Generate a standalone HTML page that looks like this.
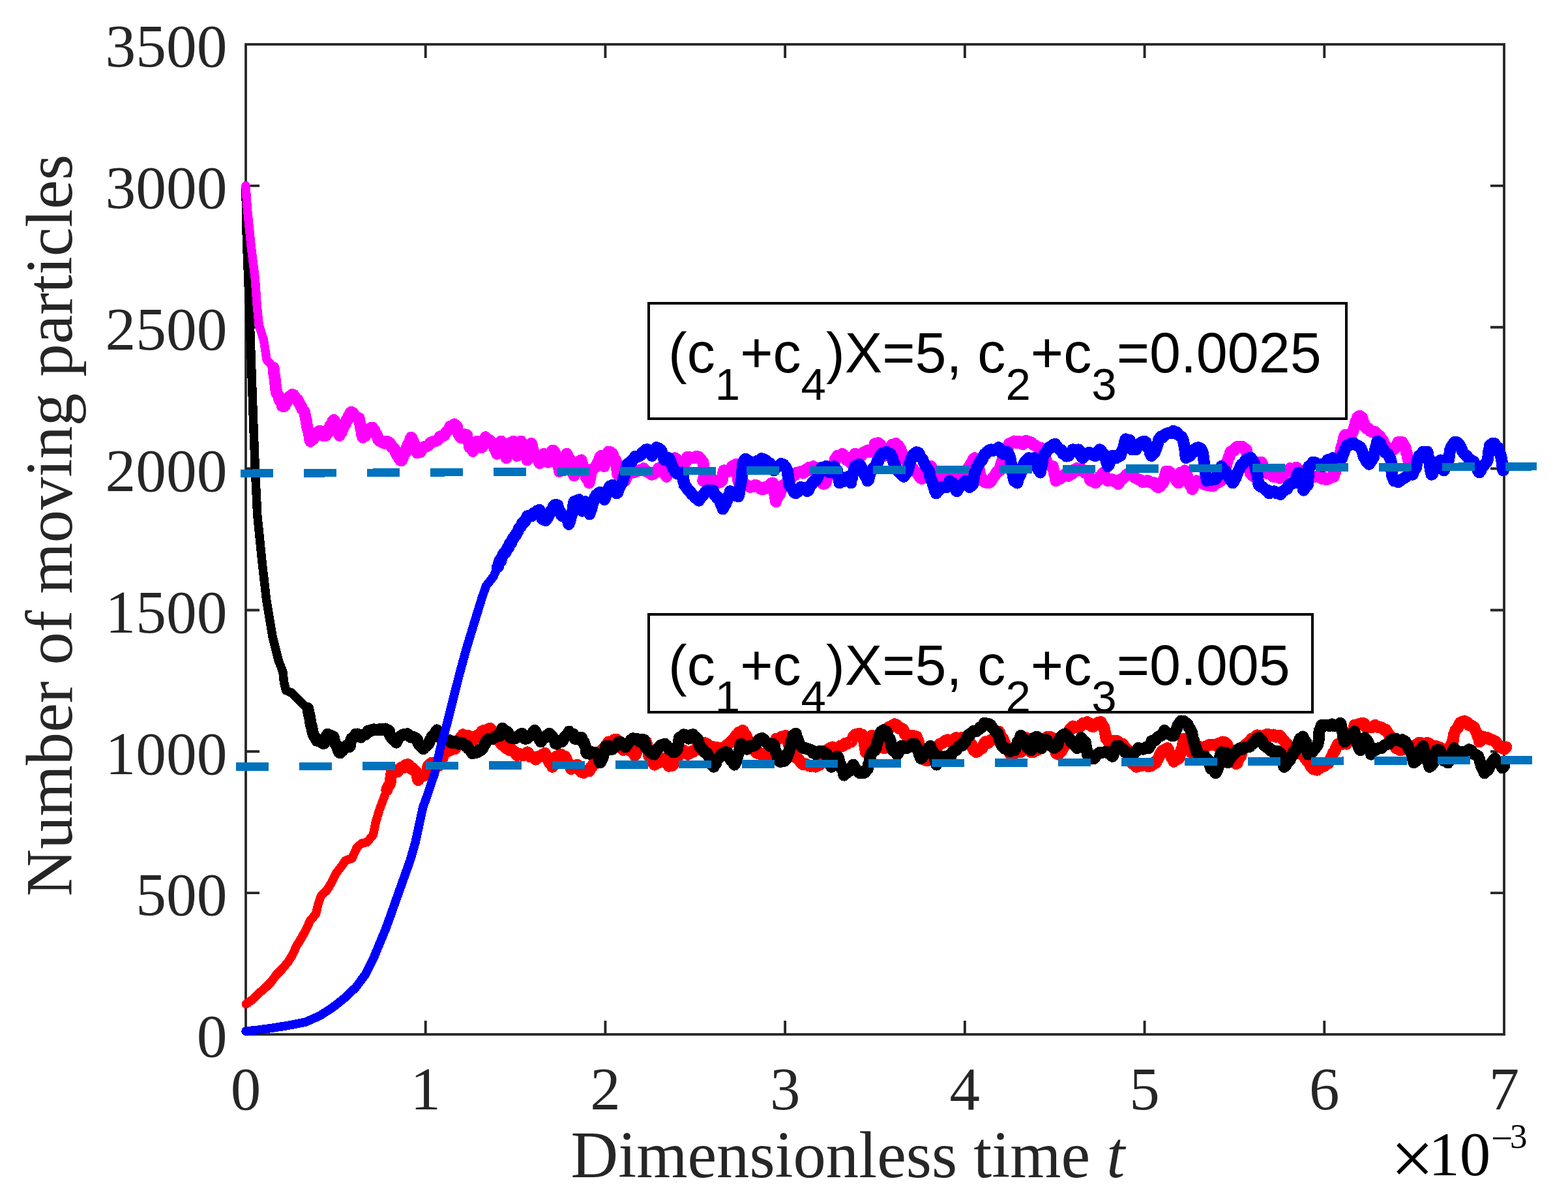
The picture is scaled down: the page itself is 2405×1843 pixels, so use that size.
<!DOCTYPE html>
<html><head><meta charset="utf-8"><title>Number of moving particles vs dimensionless time</title>
<style>html,body{margin:0;padding:0;background:#fff;overflow:hidden}svg{display:block}</style></head>
<body><svg width="2405" height="1843" viewBox="0 0 2405 1843"><rect x="377" y="68" width="1930" height="1518" fill="#fff" stroke="none"/>
<path d="M652.71,1586V1565M652.71,68V89M928.43,1586V1565M928.43,68V89M1204.14,1586V1565M1204.14,68V89M1479.86,1586V1565M1479.86,68V89M1755.57,1586V1565M1755.57,68V89M2031.29,1586V1565M2031.29,68V89M377,1369.14H398M2307,1369.14H2286M377,1152.29H398M2307,1152.29H2286M377,935.43H398M2307,935.43H2286M377,718.57H398M2307,718.57H2286M377,501.71H398M2307,501.71H2286M377,284.86H398M2307,284.86H2286" stroke="#262626" stroke-width="3.9" fill="none"/>
<rect x="377" y="68" width="1930" height="1518" fill="none" stroke="#262626" stroke-width="3.8"/>
<g shape-rendering="crispEdges"><path d="M377.4,1539.6 L387.9,1532.1 L396.8,1523.2 L407.2,1514.3 L416.1,1505.4 L423.6,1494.9 L432.5,1486.0 L441.4,1475.6 L448.9,1463.7 L454.8,1450.3 L462.3,1438.4 L469.7,1425.0 L475.7,1411.6 L484.6,1401.2 L487.6,1387.8 L492.0,1374.4 L501.0,1365.5 L508.4,1353.6 L515.8,1338.7 L524.8,1326.8 L530.0,1319.3 L540.0,1316.0 L547.6,1299.0 L555.0,1293.0 L562.9,1291.4 L572.4,1280.0 L576.2,1261.0 L581.9,1241.9 L587.6,1226.7 L593.3,1211.4" fill="none" stroke="#ff0000" stroke-width="13.5" stroke-linejoin="round" stroke-linecap="round"/><path d="M593.3,1211.4 L594.7,1207.6 L596.1,1204.9 L597.6,1203.2 L599.0,1198.0 L599.5,1192.2 L599.9,1189.7 L600.7,1185.1 L601.5,1183.3 L605.5,1180.9 L609.5,1183.3 L612.7,1179.2 L615.9,1176.6 L619.1,1176.9 L622.3,1172.8 L625.5,1172.1 L628.1,1174.3 L630.8,1178.8 L633.5,1178.5 L635.9,1181.9 L638.2,1183.3 L639.0,1185.9 L639.8,1189.2 L640.6,1193.8 L641.4,1196.1 L643.6,1193.1 L645.7,1189.7 L647.8,1189.7 L651.0,1189.0 L654.2,1184.9 L655.3,1181.7 L656.3,1175.5 L657.4,1173.7 L661.4,1170.0 L665.4,1170.5 L669.4,1170.1 L673.4,1173.7 L674.7,1172.8 L675.9,1165.4 L677.2,1164.8 L678.5,1163.3 L679.8,1157.7 L682.4,1153.3 L685.1,1152.9 L687.7,1151.4 L691.7,1149.6 L695.7,1148.2 L697.9,1148.1 L700.0,1142.3 L702.1,1141.8 L703.7,1137.5 L705.3,1134.3 L706.8,1130.2 L708.4,1130.3 L710.0,1126.3 L714.0,1128.7 L718.0,1127.9 L720.6,1129.7 L723.3,1129.8 L726.0,1134.3 L728.6,1132.7 L731.3,1130.2 L734.0,1126.3 L736.6,1124.9 L739.3,1121.2 L741.9,1119.9 L745.1,1120.5 L748.3,1118.4 L751.5,1116.7 L753.6,1119.3 L755.8,1121.2 L757.9,1123.1 L760.0,1125.0 L762.2,1129.3 L764.3,1132.7 L766.4,1137.4 L768.5,1140.0 L770.7,1142.3 L773.3,1143.1 L776.0,1147.1 L778.7,1147.1 L781.3,1150.4 L784.0,1148.0 L786.6,1151.9 L788.8,1152.3 L790.9,1154.7 L793.0,1158.2 L797.0,1155.8 L801.0,1158.2 L803.7,1157.9 L806.3,1155.8 L809.0,1153.4 L811.1,1155.8 L813.3,1160.2 L815.4,1159.8 L818.6,1161.5 L821.8,1164.6 L824.4,1161.5 L827.1,1159.5 L829.8,1159.8 L832.9,1156.6 L836.1,1155.0 L837.4,1159.6 L838.7,1161.3 L840.0,1161.5 L841.2,1166.2 L842.5,1169.4 L844.9,1170.3 L847.3,1175.8 L848.6,1173.2 L849.9,1167.5 L851.1,1164.6 L852.4,1163.7 L853.7,1159.8 L856.9,1159.9 L860.1,1156.6 L863.3,1158.8 L866.5,1159.8 L868.1,1162.0 L869.7,1166.9 L871.3,1169.4 L872.9,1171.5 L874.5,1173.3 L876.1,1179.0 L879.3,1175.7 L882.4,1175.7 L885.6,1172.6 L887.2,1176.0 L888.8,1176.7 L890.4,1182.7 L892.0,1183.8 L895.2,1184.9 L898.4,1181.6 L901.6,1182.2 L903.7,1182.4 L905.9,1176.7 L908.0,1175.8 L910.1,1171.5 L912.3,1171.6 L914.4,1169.4 L915.7,1168.0 L916.9,1163.5 L918.2,1160.1 L919.5,1156.6 L920.8,1153.4 L922.9,1150.2 L925.0,1148.2 L927.2,1147.1 L929.3,1143.4 L931.4,1140.9 L933.5,1137.5 L937.5,1138.1 L941.5,1134.3 L945.5,1133.7 L949.5,1137.5 L951.1,1139.4 L952.7,1146.1 L954.3,1147.8 L955.9,1150.3 L958.0,1146.0 L960.2,1145.7 L962.3,1143.9 L964.4,1147.3 L966.5,1151.3 L968.7,1151.9 L971.1,1153.0 L973.5,1158.2 L974.7,1157.4 L976.0,1153.8 L977.3,1148.5 L978.6,1146.9 L979.8,1143.9 L981.4,1142.3 L983.0,1136.2 L984.6,1134.3 L987.8,1136.9 L991.0,1137.5 L991.7,1141.0 L992.4,1141.7 L993.1,1145.9 L993.8,1149.8 L994.4,1151.6 L995.1,1158.9 L995.8,1159.8 L997.4,1161.1 L999.0,1163.6 L1000.6,1168.0 L1002.2,1170.2 L1003.8,1172.6 L1007.0,1170.1 L1010.2,1169.4 L1012.3,1166.4 L1014.4,1165.1 L1016.6,1163.0 L1018.7,1167.7 L1020.8,1166.2 L1023.0,1171.0 L1026.1,1174.7 L1029.3,1174.2 L1031.5,1173.7 L1033.6,1169.8 L1035.7,1166.2 L1037.3,1164.5 L1038.9,1159.2 L1040.5,1159.0 L1042.1,1153.4 L1045.3,1153.1 L1048.5,1150.3 L1050.6,1153.3 L1052.8,1154.3 L1054.9,1156.6 L1058.0,1155.0 L1060.6,1152.1 L1063.3,1152.8 L1066.0,1150.3 L1068.1,1149.3 L1070.2,1143.5 L1072.4,1143.9 L1075.0,1141.3 L1077.7,1140.9 L1080.3,1139.1 L1083.0,1139.8 L1085.7,1141.5 L1088.3,1145.5 L1092.3,1144.7 L1096.3,1147.1 L1100.3,1146.2 L1104.3,1150.3 L1107.5,1146.8 L1110.7,1147.1 L1113.3,1143.9 L1116.0,1141.7 L1118.7,1139.1 L1121.3,1137.6 L1124.0,1133.9 L1126.6,1132.7 L1128.8,1127.6 L1130.9,1128.4 L1133.0,1123.1 L1136.2,1122.2 L1139.4,1119.9 L1141.0,1123.6 L1142.6,1126.5 L1144.2,1127.4 L1145.8,1131.1 L1146.9,1134.8 L1147.9,1136.6 L1149.0,1140.7 L1151.1,1143.6 L1153.3,1146.5 L1155.4,1147.1 L1157.5,1147.3 L1159.6,1153.9 L1161.8,1155.0 L1165.8,1154.7 L1169.8,1158.2 L1173.7,1155.8 L1177.7,1158.2 L1179.0,1153.2 L1180.3,1152.8 L1181.6,1151.4 L1182.8,1148.9 L1184.1,1143.9 L1185.7,1139.4 L1187.3,1137.9 L1188.9,1137.7 L1190.5,1132.7 L1194.5,1133.0 L1198.5,1129.5 L1201.7,1130.3 L1204.9,1127.9 L1205.9,1129.8 L1207.0,1133.2 L1208.1,1137.5 L1209.1,1138.9 L1210.2,1142.7 L1211.3,1147.1 L1212.9,1149.8 L1214.5,1154.9 L1216.1,1156.6 L1218.2,1159.6 L1220.3,1159.3 L1222.4,1163.0 L1224.6,1163.6 L1226.7,1167.0 L1228.8,1169.4 L1232.0,1172.4 L1235.2,1171.4 L1238.4,1172.6 L1241.6,1174.6 L1244.8,1174.6 L1248.0,1174.2 L1251.2,1175.6 L1254.4,1173.1 L1257.6,1172.6 L1259.7,1168.8 L1261.8,1166.0 L1264.0,1163.0 L1265.2,1161.7 L1266.5,1156.2 L1267.8,1152.9 L1269.1,1153.2 L1270.3,1148.7 L1273.5,1147.0 L1276.7,1145.5 L1280.7,1147.0 L1284.7,1147.1 L1288.7,1143.8 L1292.7,1143.9 L1295.9,1140.0 L1299.1,1140.7 L1302.3,1137.7 L1305.5,1137.5 L1307.1,1134.3 L1308.7,1129.6 L1310.3,1128.0 L1311.9,1126.3 L1315.1,1127.7 L1318.2,1124.7 L1320.4,1126.5 L1322.5,1126.5 L1324.6,1131.1 L1325.1,1135.8 L1325.5,1136.5 L1326.0,1139.0 L1326.5,1144.6 L1326.9,1147.9 L1327.4,1149.4 L1327.8,1153.4 L1330.2,1151.3 L1332.6,1147.1 L1333.4,1145.7 L1334.2,1139.9 L1335.0,1137.5 L1335.8,1131.8 L1336.6,1131.6 L1337.4,1127.9 L1339.5,1129.0 L1341.7,1132.9 L1343.8,1134.3 L1345.9,1138.8 L1348.1,1139.9 L1350.2,1143.9 L1353.4,1146.3 L1356.6,1147.1 L1357.2,1146.1 L1357.8,1139.0 L1358.5,1139.0 L1359.1,1134.2 L1359.8,1133.3 L1360.4,1125.8 L1361.0,1124.1 L1361.7,1119.8 L1362.3,1117.1 L1363.0,1115.1 L1366.1,1115.5 L1369.3,1112.1 L1372.5,1110.3 L1375.7,1111.8 L1378.9,1116.9 L1382.1,1116.7 L1384.1,1117.3 L1386.1,1119.9 L1388.1,1126.4 L1390.1,1127.9 L1393.3,1128.2 L1396.4,1129.6 L1399.6,1127.9 L1402.8,1128.7 L1406.0,1129.5 L1406.9,1134.6 L1407.9,1134.4 L1408.8,1136.8 L1409.8,1142.9 L1410.8,1143.9 L1411.6,1147.2 L1412.4,1147.9 L1413.2,1151.0 L1414.0,1154.2 L1414.7,1161.0 L1415.5,1163.0 L1418.7,1165.3 L1421.9,1166.2 L1424.6,1161.6 L1427.3,1162.4 L1429.9,1158.2 L1431.5,1156.8 L1433.1,1153.3 L1434.7,1150.2 L1436.3,1147.1 L1438.7,1143.5 L1441.1,1140.7 L1444.3,1140.0 L1447.5,1137.5 L1450.7,1135.3 L1453.9,1134.3 L1457.1,1137.2 L1460.3,1135.9 L1463.4,1133.9 L1466.6,1131.1 L1470.6,1132.0 L1474.6,1131.1 L1477.8,1134.0 L1481.0,1132.7 L1484.2,1137.5 L1487.4,1137.5 L1489.0,1140.8 L1490.6,1141.9 L1492.2,1147.2 L1493.8,1150.3 L1497.0,1153.1 L1500.2,1151.9 L1503.4,1148.0 L1506.6,1147.1 L1508.2,1142.6 L1509.8,1139.6 L1511.4,1137.5 L1516.1,1139.1 L1518.5,1135.3 L1520.9,1134.3 L1523.1,1133.7 L1525.2,1130.2 L1527.3,1127.9 L1529.7,1122.6 L1532.1,1121.5 L1533.7,1124.8 L1535.3,1128.9 L1536.9,1131.1 L1538.2,1131.9 L1539.5,1136.0 L1540.7,1138.2 L1542.0,1144.8 L1543.3,1147.1 L1545.4,1149.8 L1547.5,1151.0 L1549.7,1156.6 L1552.9,1154.6 L1556.1,1155.0 L1559.3,1151.1 L1562.4,1150.3 L1565.6,1153.4 L1566.8,1150.6 L1567.9,1146.7 L1569.1,1143.5 L1570.2,1139.8 L1571.3,1135.2 L1572.5,1133.4 L1573.6,1131.1 L1575.2,1134.4 L1576.8,1136.6 L1578.4,1139.1 L1579.2,1143.1 L1580.0,1144.6 L1580.8,1147.6 L1581.6,1153.4 L1584.8,1153.2 L1588.0,1150.3 L1592.0,1149.7 L1596.0,1147.1 L1597.3,1145.0 L1598.5,1143.6 L1599.8,1137.5 L1601.1,1136.7 L1602.4,1132.7 L1606.4,1130.0 L1610.3,1129.5 L1613.5,1131.6 L1616.7,1132.7 L1617.2,1137.9 L1617.6,1138.9 L1618.1,1142.8 L1618.6,1147.9 L1619.0,1148.6 L1619.5,1150.5 L1619.9,1155.0 L1623.1,1156.5 L1626.3,1153.4 L1628.4,1151.1 L1630.6,1146.2 L1632.7,1143.9 L1633.6,1139.5 L1634.5,1135.1 L1635.4,1132.2 L1636.4,1133.5 L1637.3,1128.2 L1638.2,1126.1 L1639.1,1121.5 L1641.2,1117.6 L1643.3,1117.9 L1645.5,1113.5 L1649.5,1115.4 L1653.5,1115.1 L1656.1,1114.9 L1658.8,1110.8 L1661.4,1108.7 L1664.6,1110.0 L1667.8,1107.1 L1670.0,1109.6 L1672.1,1109.6 L1674.2,1113.5 L1677.4,1114.0 L1680.6,1110.3 L1684.6,1107.7 L1688.6,1107.1 L1690.2,1111.9 L1691.8,1112.7 L1693.4,1115.1 L1694.0,1118.1 L1694.7,1122.3 L1695.3,1125.0 L1695.9,1127.1 L1696.6,1132.7 L1698.2,1133.1 L1699.8,1135.9 L1701.4,1140.7 L1704.6,1140.3 L1707.7,1135.9 L1712.5,1135.9 L1715.7,1137.5 L1718.9,1140.7 L1722.1,1140.7 L1725.3,1145.5 L1727.4,1147.1 L1729.6,1150.4 L1731.7,1151.9 L1732.5,1156.1 L1733.2,1161.1 L1734.0,1161.9 L1734.8,1166.2 L1736.8,1170.9 L1738.8,1168.6 L1740.8,1171.7 L1742.8,1175.8 L1746.5,1174.7 L1750.2,1174.4 L1754.0,1172.6 L1757.7,1172.7 L1761.4,1175.1 L1765.1,1174.2 L1767.8,1172.8 L1770.5,1168.5 L1773.1,1169.4 L1774.7,1165.7 L1776.3,1163.7 L1777.9,1159.8 L1780.0,1155.4 L1782.2,1151.9 L1784.3,1150.3 L1787.5,1149.4 L1790.7,1147.1 L1792.3,1150.1 L1793.9,1155.9 L1795.5,1156.6 L1796.7,1161.7 L1797.9,1161.3 L1799.1,1162.7 L1800.3,1167.8 L1802.9,1164.6 L1805.6,1164.3 L1808.2,1163.0 L1809.2,1159.5 L1810.2,1156.3 L1811.1,1151.4 L1812.1,1149.3 L1813.0,1147.1 L1813.8,1143.0 L1814.6,1141.1 L1815.4,1134.4 L1816.2,1132.7 L1817.5,1136.2 L1818.8,1137.8 L1820.1,1142.7 L1821.3,1145.1 L1822.6,1147.1 L1824.7,1148.2 L1826.9,1153.4 L1829.0,1155.0 L1831.7,1152.3 L1834.3,1152.5 L1837.0,1148.7 L1840.2,1145.2 L1843.4,1145.6 L1846.6,1145.5 L1850.3,1144.5 L1854.0,1142.3 L1857.7,1142.3 L1860.9,1141.7 L1864.1,1142.7 L1867.3,1142.3 L1870.0,1139.4 L1872.6,1140.9 L1875.3,1137.5 L1878.5,1138.0 L1881.7,1140.7 L1883.3,1144.3 L1884.9,1148.3 L1886.5,1148.7 L1887.1,1150.2 L1887.8,1157.6 L1888.4,1157.6 L1889.0,1162.5 L1889.7,1166.2 L1892.9,1166.7 L1896.1,1171.0 L1897.7,1170.4 L1899.3,1164.5 L1900.8,1162.7 L1902.4,1159.8 L1903.4,1159.3 L1904.4,1152.3 L1905.3,1149.1 L1906.3,1149.3 L1907.2,1145.5 L1910.4,1141.6 L1913.6,1142.3 L1915.6,1138.0 L1917.6,1136.3 L1919.6,1132.6 L1921.6,1132.7 L1924.8,1130.3 L1928.0,1127.3 L1931.2,1127.9 L1934.4,1130.1 L1937.6,1128.0 L1940.8,1127.9 L1944.0,1125.6 L1947.2,1129.1 L1950.3,1127.9 L1953.5,1126.6 L1956.7,1129.8 L1959.9,1127.9 L1962.6,1127.7 L1965.2,1130.3 L1967.9,1134.3 L1970.0,1135.8 L1972.2,1140.2 L1974.3,1140.7 L1975.9,1146.0 L1977.5,1149.4 L1979.1,1150.3 L1982.3,1148.8 L1985.5,1150.3 L1988.7,1152.0 L1991.9,1155.0 L1995.1,1156.0 L1998.2,1153.4 L1999.8,1158.2 L2001.4,1162.0 L2003.0,1160.9 L2004.6,1166.2 L2006.8,1167.1 L2008.9,1172.1 L2011.0,1175.8 L2014.2,1179.1 L2017.4,1179.9 L2020.6,1180.6 L2023.8,1177.8 L2027.0,1175.8 L2030.2,1175.1 L2033.4,1172.6 L2035.5,1170.2 L2037.6,1170.0 L2039.8,1166.2 L2041.4,1162.0 L2043.0,1161.1 L2044.6,1154.9 L2046.1,1153.4 L2047.7,1150.7 L2049.3,1146.1 L2050.9,1143.1 L2052.5,1140.7 L2055.7,1139.5 L2058.9,1140.7 L2062.1,1138.3 L2065.3,1140.7 L2066.6,1135.5 L2067.9,1135.1 L2069.1,1131.9 L2070.4,1128.7 L2071.7,1124.7 L2072.1,1128.4 L2072.6,1132.7 L2073.2,1130.2 L2073.9,1128.2 L2074.6,1126.2 L2075.3,1120.3 L2076.0,1119.1 L2076.7,1116.5 L2077.4,1111.9 L2080.5,1112.9 L2083.7,1110.3 L2086.9,1110.4 L2090.1,1108.7 L2092.3,1109.5 L2094.4,1114.6 L2096.5,1115.1 L2099.7,1115.4 L2102.9,1115.1 L2106.1,1114.7 L2109.3,1111.9 L2112.5,1114.8 L2115.7,1115.1 L2118.9,1115.3 L2122.1,1118.3 L2125.3,1118.6 L2128.4,1123.1 L2130.6,1127.2 L2132.7,1129.3 L2134.8,1131.1 L2136.1,1131.9 L2137.4,1135.2 L2138.7,1140.3 L2139.9,1144.6 L2141.2,1147.1 L2144.4,1146.8 L2147.6,1150.3 L2150.8,1149.6 L2154.0,1147.1 L2157.2,1146.3 L2160.4,1147.8 L2163.6,1147.1 L2166.8,1144.3 L2170.0,1143.9 L2173.2,1140.9 L2176.4,1138.9 L2179.5,1139.1 L2182.7,1140.0 L2185.9,1139.7 L2189.1,1139.1 L2191.3,1139.6 L2193.4,1142.5 L2195.5,1147.1 L2198.7,1147.1 L2201.9,1143.9 L2206.7,1145.5 L2209.3,1146.4 L2212.0,1151.9 L2214.7,1151.9 L2217.9,1153.4 L2221.1,1150.3 L2223.2,1148.6 L2225.3,1142.1 L2227.4,1140.7 L2228.1,1135.5 L2228.7,1135.9 L2229.4,1130.7 L2230.0,1125.6 L2230.6,1124.7 L2232.2,1120.1 L2233.8,1118.3 L2235.4,1116.7 L2237.6,1112.3 L2239.7,1108.0 L2241.8,1107.1 L2246.6,1105.5 L2248.7,1108.8 L2250.9,1107.6 L2253.0,1111.9 L2257.0,1112.5 L2261.0,1115.1 L2262.6,1119.3 L2264.2,1122.8 L2265.8,1124.7 L2266.6,1129.4 L2267.4,1129.8 L2268.2,1132.6 L2269.0,1137.5 L2271.1,1135.4 L2273.2,1133.7 L2275.3,1129.5 L2278.5,1131.5 L2281.7,1131.1 L2284.9,1133.9 L2288.1,1134.3 L2291.3,1135.5 L2294.5,1137.5 L2296.6,1140.7 L2298.8,1143.8 L2300.9,1143.9 L2304.1,1146.8 L2307.3,1148.7 L2310.5,1145.5" fill="none" stroke="#ff0000" stroke-width="18" stroke-linejoin="round" stroke-linecap="round"/></g>
<g shape-rendering="crispEdges"><path d="M377.0,284.5 L377.5,330.0 L378.6,372.8 L380.5,420.0 L382.3,465.6 L385.5,558.4 L388.8,651.2 L391.6,725.5 L394.8,790.4 L401.8,860.0 L408.7,920.4 L418.0,976.0 L427.3,1013.0 L433.9,1030.0 L435.5,1046.0 L438.7,1058.7 L446.6,1061.9 L456.2,1071.5 L465.8,1081.1 L472.2,1085.9" fill="none" stroke="#000000" stroke-width="13.5" stroke-linejoin="round" stroke-linecap="round"/><path d="M472.2,1085.9 L472.8,1089.4 L473.5,1092.9 L474.1,1097.1 L474.7,1097.5 L475.4,1101.9 L476.0,1105.8 L476.7,1110.2 L477.3,1113.5 L477.9,1113.1 L478.6,1117.8 L479.6,1122.3 L480.7,1125.9 L481.8,1129.0 L483.9,1131.1 L486.0,1135.6 L488.2,1135.4 L490.8,1137.1 L493.5,1138.3 L496.1,1140.2 L497.4,1139.5 L498.7,1135.1 L500.0,1130.6 L501.2,1127.7 L502.5,1125.8 L506.5,1127.4 L510.5,1129.0 L511.7,1130.0 L512.9,1135.9 L514.1,1139.8 L515.3,1141.8 L516.9,1144.6 L518.5,1149.9 L520.1,1153.5 L521.7,1154.5 L523.7,1152.4 L525.7,1150.7 L527.7,1145.4 L529.7,1145.0 L532.9,1142.7 L536.1,1145.0 L536.9,1144.2 L537.7,1137.5 L538.5,1134.0 L539.3,1132.2 L541.4,1132.0 L543.5,1129.2 L545.6,1125.8 L548.3,1125.5 L551.0,1128.1 L553.6,1130.6 L556.3,1127.7 L558.9,1126.3 L561.6,1125.8 L564.3,1121.2 L566.9,1121.7 L569.6,1119.4 L573.6,1118.4 L577.6,1119.4 L580.8,1118.9 L584.0,1117.8 L587.2,1119.4 L591.1,1117.5 L595.1,1119.4 L596.7,1120.3 L598.3,1127.7 L599.9,1130.2 L601.5,1132.2 L603.7,1134.6 L605.8,1134.6 L607.9,1138.6 L610.0,1133.6 L612.2,1130.3 L614.3,1129.0 L618.3,1126.5 L622.3,1125.8 L624.9,1125.2 L627.6,1127.9 L630.3,1130.6 L634.3,1129.9 L638.2,1132.2 L639.8,1133.8 L641.4,1139.3 L643.0,1141.8 L645.2,1143.7 L647.3,1145.9 L649.4,1148.2 L651.6,1145.3 L653.7,1144.1 L655.8,1141.8 L657.4,1140.5 L659.0,1135.5 L660.6,1133.8 L662.7,1129.0 L664.9,1128.4 L667.0,1125.8 L668.6,1122.0 L670.2,1119.4 L671.8,1124.0 L673.4,1123.9 L675.0,1130.9 L676.6,1132.2 L679.6,1130.7 L682.7,1134.2 L685.8,1134.6 L688.8,1134.9 L691.9,1138.6 L694.9,1138.6 L698.0,1136.8 L701.1,1139.4 L704.1,1140.8 L707.2,1138.8 L710.3,1140.0 L713.3,1143.5 L716.4,1143.9 L718.4,1147.8 L720.4,1149.3 L722.4,1151.9 L724.4,1155.0 L728.4,1154.3 L732.4,1153.4 L734.7,1149.9 L737.1,1150.5 L739.5,1148.6 L741.9,1143.9 L743.9,1141.0 L745.9,1135.9 L747.9,1135.0 L749.9,1132.7 L753.9,1133.4 L757.9,1131.1 L761.1,1129.2 L764.3,1127.0 L767.5,1127.9 L768.5,1122.6 L769.6,1121.5 L770.7,1116.7 L773.9,1119.7 L777.1,1121.5 L779.2,1123.6 L781.3,1128.5 L783.4,1131.1 L786.6,1131.9 L789.8,1132.4 L793.0,1129.5 L795.7,1129.6 L798.4,1126.0 L801.0,1124.7 L802.6,1128.9 L804.2,1132.2 L805.8,1132.7 L809.0,1132.1 L812.2,1127.9 L814.9,1126.5 L817.5,1123.0 L820.2,1119.9 L821.8,1122.6 L823.4,1127.0 L825.0,1127.9 L826.6,1131.7 L828.2,1135.4 L829.8,1137.5 L831.9,1134.0 L834.0,1131.2 L836.1,1131.1 L838.3,1127.8 L840.4,1127.3 L842.5,1124.7 L844.7,1127.7 L846.8,1128.5 L848.9,1132.7 L850.5,1133.8 L852.1,1140.3 L853.7,1140.7 L856.9,1136.9 L860.1,1137.5 L862.2,1137.0 L864.3,1133.5 L866.5,1129.5 L868.6,1127.2 L870.7,1126.7 L872.9,1121.5 L875.3,1124.8 L877.7,1126.3 L879.8,1126.0 L881.9,1132.8 L884.0,1132.7 L888.0,1131.5 L892.0,1131.1 L893.2,1136.0 L894.4,1138.3 L895.6,1137.7 L896.8,1142.3 L897.6,1143.2 L898.4,1146.3 L899.2,1153.3 L900.0,1155.0 L904.0,1155.7 L908.0,1153.4 L912.0,1153.7 L916.0,1156.6 L917.2,1157.9 L918.4,1162.4 L919.6,1167.7 L920.8,1169.4 L922.0,1167.4 L923.2,1164.9 L924.4,1162.2 L925.6,1156.6 L926.8,1154.7 L928.0,1151.9 L929.1,1144.6 L930.3,1143.9 L933.5,1143.8 L936.7,1148.7 L939.4,1148.9 L942.1,1146.1 L944.7,1143.9 L946.8,1140.9 L949.0,1137.8 L951.1,1137.5 L953.8,1139.3 L956.4,1142.0 L959.1,1145.5 L961.2,1142.8 L963.3,1139.9 L965.5,1137.5 L968.1,1134.4 L970.8,1132.2 L973.5,1132.7 L976.1,1132.8 L978.8,1134.0 L981.4,1137.5 L984.6,1133.9 L987.8,1134.3 L988.6,1137.1 L989.4,1138.8 L990.2,1145.4 L991.0,1147.1 L993.2,1149.4 L995.3,1151.1 L997.4,1153.4 L1000.6,1155.7 L1003.8,1156.6 L1005.9,1152.1 L1008.1,1147.9 L1010.2,1147.1 L1013.4,1142.8 L1016.6,1142.0 L1019.8,1140.7 L1021.9,1142.6 L1024.0,1144.8 L1026.1,1148.7 L1029.3,1150.1 L1032.5,1153.4 L1035.7,1152.7 L1038.9,1148.7 L1039.6,1142.7 L1040.2,1141.4 L1040.8,1137.5 L1041.5,1133.5 L1042.1,1131.1 L1045.3,1129.8 L1048.5,1126.3 L1051.7,1127.3 L1054.9,1131.1 L1056.4,1132.7 L1058.5,1128.3 L1060.6,1126.7 L1062.8,1126.3 L1064.9,1130.8 L1067.0,1129.8 L1069.2,1132.7 L1070.4,1133.7 L1071.7,1140.8 L1073.0,1142.0 L1074.3,1146.5 L1075.5,1147.1 L1077.7,1148.3 L1079.8,1152.9 L1081.9,1153.4 L1084.1,1154.3 L1086.2,1158.5 L1088.3,1163.0 L1089.9,1167.7 L1091.5,1169.5 L1093.1,1174.1 L1094.7,1175.8 L1096.3,1172.0 L1097.9,1171.3 L1099.5,1164.1 L1101.1,1163.0 L1103.2,1161.5 L1105.4,1157.2 L1107.5,1156.6 L1111.5,1153.5 L1115.5,1153.4 L1117.1,1158.6 L1118.7,1159.5 L1120.3,1164.6 L1121.9,1166.2 L1124.2,1168.3 L1126.6,1172.6 L1127.8,1170.6 L1129.0,1168.3 L1130.2,1163.7 L1131.4,1159.8 L1132.2,1155.3 L1133.0,1154.3 L1133.8,1152.5 L1134.6,1148.6 L1135.4,1143.6 L1136.2,1140.7 L1141.0,1143.9 L1143.4,1145.8 L1145.8,1148.7 L1149.0,1144.3 L1152.2,1143.9 L1156.2,1143.6 L1160.2,1140.7 L1162.3,1136.3 L1164.4,1133.9 L1166.6,1132.7 L1169.2,1132.0 L1171.9,1134.2 L1174.5,1137.5 L1176.7,1139.0 L1178.8,1141.6 L1180.9,1143.9 L1185.7,1140.7 L1186.9,1142.2 L1188.1,1146.7 L1189.3,1151.5 L1190.5,1153.4 L1191.3,1154.6 L1192.1,1158.0 L1192.9,1163.1 L1193.7,1166.2 L1196.9,1168.2 L1200.1,1166.2 L1203.3,1166.7 L1206.5,1163.0 L1207.4,1160.2 L1208.4,1154.6 L1209.4,1155.3 L1210.3,1152.7 L1211.3,1147.1 L1212.1,1145.9 L1212.9,1140.8 L1213.7,1136.9 L1214.5,1134.7 L1215.3,1132.5 L1216.1,1127.9 L1220.8,1124.7 L1221.8,1130.4 L1222.8,1131.1 L1223.7,1134.3 L1224.7,1136.5 L1225.6,1140.7 L1227.8,1143.0 L1229.9,1145.2 L1232.0,1147.1 L1235.2,1146.8 L1238.4,1148.7 L1241.6,1149.2 L1244.8,1150.3 L1246.9,1154.5 L1249.1,1153.2 L1251.2,1156.6 L1254.4,1153.0 L1257.6,1151.9 L1260.8,1151.7 L1264.0,1153.4 L1266.1,1157.4 L1268.2,1156.7 L1270.3,1159.8 L1271.3,1164.7 L1272.3,1168.4 L1273.2,1171.3 L1274.2,1174.1 L1275.1,1175.8 L1276.3,1171.1 L1277.5,1169.2 L1278.7,1167.8 L1279.9,1163.0 L1284.7,1159.8 L1285.9,1161.8 L1287.1,1166.7 L1288.3,1171.3 L1289.5,1172.6 L1290.5,1178.0 L1291.4,1178.2 L1292.4,1180.3 L1293.3,1183.0 L1294.3,1188.6 L1297.0,1185.5 L1299.6,1184.6 L1302.3,1182.2 L1304.4,1177.9 L1306.5,1177.4 L1308.7,1172.6 L1310.8,1176.6 L1312.9,1179.6 L1315.1,1182.2 L1318.2,1184.9 L1321.4,1183.5 L1324.6,1185.4 L1326.8,1184.0 L1328.9,1180.4 L1331.0,1179.0 L1331.7,1174.7 L1332.4,1170.7 L1333.1,1170.9 L1333.8,1168.2 L1334.4,1160.7 L1335.1,1160.9 L1335.8,1156.6 L1337.9,1152.3 L1340.1,1152.0 L1342.2,1150.3 L1343.2,1146.1 L1344.1,1145.9 L1345.1,1140.3 L1346.0,1137.5 L1347.0,1134.3 L1348.2,1130.4 L1349.4,1126.7 L1350.6,1123.4 L1351.8,1121.5 L1355.0,1119.3 L1358.2,1121.5 L1359.8,1121.9 L1361.4,1127.4 L1363.0,1131.1 L1364.6,1132.7 L1365.4,1136.5 L1366.1,1137.3 L1366.9,1143.9 L1367.7,1142.3 L1368.5,1147.0 L1369.3,1150.3 L1371.5,1151.6 L1373.6,1152.9 L1375.7,1156.6 L1377.3,1155.8 L1378.9,1151.3 L1380.5,1145.2 L1382.1,1143.9 L1385.3,1143.9 L1388.5,1147.1 L1391.7,1147.0 L1394.9,1143.9 L1396.4,1142.3 L1399.6,1140.8 L1402.8,1140.7 L1404.4,1142.9 L1406.0,1146.0 L1407.6,1150.3 L1408.8,1152.6 L1410.0,1157.1 L1411.2,1158.9 L1412.4,1163.0 L1414.5,1161.4 L1416.6,1156.6 L1418.7,1156.6 L1420.3,1154.3 L1421.9,1152.0 L1423.5,1148.1 L1425.1,1148.3 L1426.7,1143.9 L1428.3,1149.2 L1429.9,1151.0 L1431.5,1153.4 L1432.3,1156.2 L1433.1,1158.2 L1433.9,1163.7 L1434.7,1165.2 L1435.5,1167.7 L1436.3,1172.6 L1437.9,1169.6 L1439.5,1164.7 L1441.1,1163.7 L1442.7,1159.8 L1446.7,1161.1 L1450.7,1159.8 L1453.9,1159.0 L1457.1,1163.0 L1458.3,1160.9 L1459.5,1155.9 L1460.7,1153.8 L1461.9,1151.9 L1464.5,1150.8 L1467.2,1149.9 L1469.8,1145.5 L1472.5,1142.9 L1475.2,1143.5 L1477.8,1140.7 L1479.4,1136.7 L1481.0,1136.5 L1482.6,1131.1 L1484.7,1127.3 L1486.9,1127.7 L1489.0,1124.7 L1493.0,1121.0 L1497.0,1121.5 L1499.1,1119.7 L1501.2,1118.5 L1503.4,1115.1 L1505.5,1115.1 L1507.6,1112.2 L1509.8,1108.7 L1513.7,1109.8 L1517.7,1110.3 L1519.9,1112.5 L1522.0,1116.3 L1524.1,1118.3 L1526.3,1121.2 L1528.4,1123.1 L1530.5,1124.7 L1531.6,1129.0 L1532.6,1132.3 L1533.7,1134.3 L1534.8,1139.7 L1535.8,1141.3 L1536.9,1143.9 L1540.1,1147.3 L1543.3,1147.1 L1546.5,1150.7 L1549.7,1151.9 L1552.9,1150.5 L1556.1,1150.3 L1557.3,1148.6 L1558.5,1143.2 L1559.7,1142.3 L1560.8,1137.5 L1562.4,1136.2 L1564.0,1133.1 L1565.6,1127.9 L1567.8,1132.1 L1569.9,1133.1 L1572.0,1134.3 L1573.2,1137.5 L1574.4,1139.6 L1575.6,1144.6 L1576.8,1147.1 L1581.6,1150.3 L1582.4,1149.0 L1583.2,1143.2 L1584.0,1139.2 L1584.8,1138.8 L1585.6,1136.3 L1586.4,1131.1 L1589.6,1129.6 L1592.8,1131.1 L1593.7,1132.5 L1594.7,1135.5 L1595.7,1140.9 L1596.6,1145.5 L1597.6,1147.1 L1599.2,1142.6 L1600.8,1142.1 L1602.4,1135.2 L1604.0,1134.3 L1606.1,1135.0 L1608.2,1138.8 L1610.3,1140.7 L1612.5,1144.1 L1614.6,1144.9 L1616.7,1147.1 L1621.5,1143.9 L1622.7,1141.6 L1623.9,1136.8 L1625.1,1133.7 L1626.3,1131.1 L1628.7,1128.8 L1631.1,1126.3 L1633.8,1125.4 L1636.4,1128.0 L1639.1,1131.1 L1641.2,1133.5 L1643.3,1138.3 L1645.5,1140.7 L1647.6,1141.3 L1649.7,1143.7 L1651.9,1147.1 L1653.1,1146.3 L1654.4,1141.4 L1655.7,1137.0 L1657.0,1135.7 L1658.2,1131.1 L1660.4,1134.3 L1662.5,1136.9 L1664.6,1137.5 L1665.2,1141.0 L1665.7,1144.4 L1666.2,1145.0 L1666.8,1149.9 L1667.3,1152.9 L1667.8,1156.6 L1670.5,1157.6 L1673.2,1160.2 L1675.8,1163.0 L1678.5,1162.8 L1681.1,1157.4 L1683.8,1156.6 L1687.0,1153.6 L1690.2,1153.7 L1693.4,1153.4 L1696.6,1152.6 L1699.8,1155.0 L1703.0,1155.1 L1706.1,1159.8 L1707.4,1158.7 L1708.7,1153.7 L1710.0,1147.9 L1711.3,1147.2 L1712.5,1143.9 L1716.5,1143.8 L1720.5,1147.1 L1723.2,1149.1 L1725.8,1153.5 L1728.5,1153.4 L1731.7,1156.6 L1734.9,1155.0 L1739.6,1155.0 L1741.7,1151.9 L1743.8,1151.1 L1746.0,1147.1 L1750.0,1147.8 L1754.0,1148.7 L1757.9,1145.8 L1761.9,1147.1 L1763.1,1143.8 L1764.3,1143.0 L1765.5,1140.1 L1766.7,1135.9 L1769.4,1135.4 L1772.0,1135.1 L1774.7,1131.1 L1777.9,1128.9 L1781.1,1127.9 L1782.7,1126.3 L1784.3,1124.2 L1785.9,1119.9 L1788.5,1123.6 L1791.2,1125.0 L1793.9,1124.7 L1797.1,1128.2 L1800.3,1127.9 L1801.5,1124.3 L1802.7,1121.7 L1803.8,1120.1 L1805.0,1116.7 L1806.6,1112.0 L1808.2,1110.2 L1809.8,1107.7 L1811.4,1105.5 L1815.4,1105.7 L1819.4,1108.7 L1821.5,1110.4 L1823.7,1115.9 L1825.8,1118.3 L1826.9,1120.6 L1827.9,1122.5 L1829.0,1127.9 L1829.8,1132.6 L1830.6,1136.5 L1831.4,1136.1 L1832.2,1140.7 L1833.0,1144.8 L1833.8,1145.0 L1834.6,1148.9 L1835.4,1153.4 L1837.5,1153.9 L1839.6,1158.4 L1841.8,1159.8 L1845.0,1160.1 L1848.2,1159.8 L1850.3,1163.6 L1852.4,1164.9 L1854.5,1166.2 L1855.3,1170.7 L1856.1,1174.5 L1856.9,1176.2 L1857.7,1179.0 L1859.9,1179.8 L1862.0,1181.6 L1864.1,1185.4 L1865.7,1184.0 L1867.3,1180.6 L1868.9,1175.8 L1869.3,1173.3 L1869.7,1171.7 L1870.1,1167.8 L1870.5,1163.0 L1871.6,1159.4 L1872.6,1155.1 L1873.7,1153.4 L1877.7,1153.9 L1881.7,1155.0 L1882.1,1160.7 L1882.5,1164.2 L1882.9,1163.4 L1883.3,1169.4 L1884.9,1163.8 L1886.5,1162.8 L1888.1,1161.9 L1889.7,1156.6 L1892.3,1156.4 L1895.0,1154.1 L1897.7,1150.3 L1901.6,1147.3 L1905.6,1148.7 L1909.6,1145.6 L1913.6,1145.5 L1916.3,1145.2 L1918.9,1142.0 L1921.6,1140.7 L1923.7,1137.1 L1925.9,1137.7 L1928.0,1132.7 L1931.2,1131.1 L1934.4,1134.3 L1936.5,1137.4 L1938.6,1142.6 L1940.8,1143.9 L1944.0,1146.5 L1947.2,1147.1 L1949.3,1151.1 L1951.4,1150.2 L1953.5,1153.4 L1956.7,1153.0 L1959.9,1151.9 L1962.1,1156.9 L1964.2,1155.3 L1966.3,1159.8 L1967.0,1162.7 L1967.6,1168.7 L1968.2,1167.7 L1968.9,1174.0 L1969.5,1175.8 L1971.9,1173.9 L1974.3,1169.4 L1976.4,1165.0 L1978.6,1165.5 L1980.7,1159.8 L1982.8,1158.0 L1984.9,1151.6 L1987.1,1150.3 L1988.3,1149.5 L1989.5,1145.8 L1990.7,1140.6 L1991.9,1137.5 L1994.0,1132.5 L1996.1,1133.6 L1998.2,1129.5 L1999.8,1132.6 L2001.4,1136.0 L2003.0,1137.5 L2003.6,1138.6 L2004.1,1143.8 L2004.6,1148.6 L2005.2,1151.4 L2005.7,1151.8 L2006.2,1156.6 L2009.4,1154.2 L2012.6,1153.4 L2015.0,1150.0 L2017.4,1147.1 L2019.0,1143.7 L2020.6,1143.1 L2022.2,1137.5 L2022.5,1136.1 L2022.8,1128.0 L2023.2,1127.5 L2023.5,1121.6 L2023.8,1119.9 L2025.4,1117.7 L2027.0,1111.9 L2031.0,1112.1 L2035.0,1111.9 L2039.0,1113.1 L2043.0,1110.3 L2046.1,1113.2 L2049.3,1111.9 L2052.5,1112.5 L2055.7,1108.7 L2056.5,1110.3 L2057.3,1112.9 L2058.1,1119.7 L2058.9,1121.5 L2059.6,1124.5 L2060.2,1129.3 L2060.8,1130.8 L2061.5,1133.9 L2062.1,1137.5 L2064.2,1135.5 L2066.4,1130.4 L2068.5,1127.9 L2072.6,1127.9 L2075.0,1124.7 L2077.4,1121.5 L2078.2,1124.2 L2079.0,1128.8 L2079.7,1129.0 L2080.5,1134.1 L2081.3,1137.9 L2082.1,1140.7 L2083.7,1144.8 L2085.3,1149.1 L2086.9,1150.3 L2088.0,1146.4 L2089.1,1146.2 L2090.1,1141.7 L2091.2,1136.9 L2092.3,1134.6 L2093.3,1131.1 L2095.7,1133.6 L2098.1,1137.5 L2098.9,1141.4 L2099.7,1141.5 L2100.5,1149.0 L2101.3,1149.6 L2102.1,1151.0 L2102.9,1156.6 L2105.0,1152.4 L2107.2,1151.6 L2109.3,1150.3 L2112.5,1147.5 L2115.7,1147.1 L2118.9,1147.2 L2122.1,1143.9 L2125.3,1141.7 L2128.4,1140.7 L2130.6,1140.6 L2132.7,1135.3 L2134.8,1134.3 L2138.0,1132.7 L2141.2,1132.7 L2144.4,1135.5 L2147.6,1135.5 L2150.8,1134.3 L2152.9,1138.6 L2155.1,1136.6 L2157.2,1140.7 L2158.8,1141.7 L2160.4,1148.0 L2162.0,1149.4 L2163.6,1153.4 L2164.5,1154.7 L2165.5,1157.8 L2166.5,1162.1 L2167.4,1165.3 L2168.4,1169.4 L2173.2,1166.2 L2174.1,1163.8 L2175.1,1162.3 L2176.0,1155.0 L2177.0,1154.9 L2177.9,1150.3 L2180.3,1147.5 L2182.7,1143.9 L2183.9,1148.9 L2185.1,1152.7 L2186.3,1155.5 L2187.5,1156.6 L2188.3,1158.0 L2189.1,1164.2 L2189.9,1167.6 L2190.7,1168.8 L2191.5,1170.3 L2192.3,1175.8 L2194.4,1175.0 L2196.6,1172.2 L2198.7,1169.4 L2199.5,1167.5 L2200.3,1164.3 L2201.1,1161.0 L2201.9,1154.4 L2202.7,1155.7 L2203.5,1150.3 L2208.3,1150.3 L2209.6,1155.7 L2210.8,1155.9 L2212.1,1161.3 L2213.4,1165.2 L2214.7,1166.2 L2217.9,1167.5 L2221.1,1169.4 L2222.3,1165.4 L2223.5,1163.5 L2224.7,1161.2 L2225.8,1156.6 L2227.4,1153.0 L2229.0,1151.2 L2230.6,1147.1 L2233.0,1152.5 L2235.4,1153.4 L2239.4,1152.8 L2243.4,1153.4 L2246.6,1154.7 L2249.8,1151.9 L2253.0,1149.3 L2256.2,1150.3 L2258.3,1152.9 L2260.4,1156.2 L2262.6,1156.6 L2267.4,1159.8 L2268.3,1162.6 L2269.3,1165.1 L2270.2,1168.3 L2271.2,1171.9 L2272.2,1175.8 L2273.8,1178.4 L2275.3,1181.8 L2276.9,1185.4 L2279.1,1182.0 L2281.2,1181.6 L2283.3,1179.0 L2284.9,1174.4 L2286.5,1171.4 L2288.1,1169.4 L2290.5,1166.0 L2292.9,1163.0 L2295.3,1168.3 L2297.7,1169.4 L2299.8,1171.0 L2302.0,1173.1 L2304.1,1177.4 L2307.3,1174.2" fill="none" stroke="#000000" stroke-width="18" stroke-linejoin="round" stroke-linecap="round"/></g>
<g shape-rendering="crispEdges"><path d="M377.0,284.5 L379.3,319.5 L385.3,379.0 L391.3,426.7 L394.2,468.3 L397.2,498.0 L404.6,521.9 L409.1,551.7 L419.5,563.6" fill="none" stroke="#ff00ff" stroke-width="13.5" stroke-linejoin="round" stroke-linecap="round"/><path d="M419.5,563.6 L419.9,566.6 L420.2,570.3 L420.6,575.4 L421.0,576.3 L421.4,579.8 L421.8,583.4 L422.1,584.6 L422.5,589.5 L422.9,593.3 L423.2,597.3 L423.6,597.0 L424.0,602.3 L425.5,604.3 L427.0,606.2 L428.5,612.8 L429.9,615.2 L431.4,614.9 L432.9,622.5 L434.4,623.1 L436.3,622.9 L438.2,618.8 L440.1,616.0 L442.1,611.2 L444.0,607.9 L445.9,607.9 L447.8,605.2 L449.9,605.4 L452.0,608.4 L454.0,611.0 L456.1,612.4 L458.2,617.1 L460.0,619.9 L461.8,622.8 L463.5,627.8 L465.3,629.1 L467.1,632.0 L467.7,635.7 L468.3,638.0 L468.9,641.8 L469.5,643.7 L470.1,645.8 L470.7,652.4 L471.3,655.3 L471.9,657.5 L472.5,659.9 L473.1,660.9 L473.7,663.4 L474.3,666.7 L474.9,668.6 L475.5,675.1 L476.1,676.7 L478.1,673.7 L480.1,673.5 L482.1,668.7 L484.0,669.1 L486.0,666.0 L488.0,661.8 L491.0,660.8 L493.9,663.3 L496.9,668.3 L499.9,667.7 L501.4,664.6 L502.9,664.2 L504.4,658.3 L505.9,653.7 L507.3,653.5 L508.8,651.2 L510.3,645.7 L511.8,643.9 L512.9,644.8 L514.0,649.0 L515.1,655.1 L516.2,657.1 L517.4,656.9 L518.5,660.5 L519.6,662.7 L520.7,667.7 L522.1,662.8 L523.5,663.7 L524.8,657.8 L526.2,657.0 L527.6,653.7 L529.0,649.7 L530.3,649.6 L531.7,643.9 L533.1,643.7 L534.5,638.3 L535.8,637.1 L537.2,633.3 L538.6,632.0 L541.6,633.1 L544.5,638.9 L547.5,640.3 L550.5,641.0 L551.1,643.0 L551.7,648.9 L552.3,648.5 L552.9,652.4 L553.5,657.6 L554.0,659.5 L554.6,659.8 L555.2,667.2 L555.8,666.3 L556.4,670.7 L558.5,667.4 L560.7,667.8 L562.8,663.5 L564.9,661.2 L567.0,657.9 L569.2,655.9 L571.3,655.8 L572.8,658.8 L574.3,659.7 L575.8,664.1 L577.2,665.6 L578.7,668.6 L580.2,673.8 L581.7,674.0 L583.2,676.7 L586.2,677.7 L589.2,679.7 L592.1,676.9 L595.1,677.3 L598.1,679.6 L599.9,684.3 L601.7,686.5 L603.5,686.4 L605.3,688.8 L607.0,694.2 L608.8,697.9 L610.6,696.8 L612.4,703.3 L614.2,705.6 L616.0,706.4 L617.2,703.9 L618.5,700.1 L619.7,695.5 L620.9,692.2 L622.2,693.8 L623.4,687.2 L624.6,686.6 L625.9,681.4 L627.1,681.2 L628.3,677.1 L629.6,672.6 L630.8,670.7 L631.9,672.1 L633.0,677.8 L634.2,677.5 L635.3,681.2 L636.4,685.9 L637.5,690.3 L638.7,692.1 L639.8,694.5 L642.3,691.7 L644.9,693.2 L647.4,687.9 L650.0,685.3 L652.5,684.8 L655.1,684.0 L657.6,682.6 L660.6,678.6 L663.6,677.4 L666.5,676.6 L669.5,675.8 L672.5,673.7 L674.8,669.5 L677.1,668.4 L679.4,668.7 L681.7,666.9 L684.1,662.9 L686.4,660.8 L688.7,657.9 L691.0,653.4 L693.3,652.9 L696.6,650.5 L700.0,652.7 L701.0,653.9 L702.0,661.9 L703.0,664.5 L704.0,667.1 L706.8,671.0 L709.6,670.3 L712.8,666.3 L716.0,667.1 L716.8,670.9 L717.6,673.4 L718.4,677.8 L719.2,678.9 L720.0,685.5 L720.8,686.2 L723.2,686.9 L725.5,691.8 L726.8,689.0 L728.1,686.9 L729.4,684.7 L730.7,680.9 L731.9,676.6 L734.1,680.9 L736.2,684.5 L738.3,686.2 L739.6,685.1 L740.9,679.1 L742.2,677.6 L743.4,675.5 L744.7,670.3 L747.9,674.5 L751.1,675.0 L753.2,677.3 L755.4,681.8 L757.5,683.0 L758.7,688.0 L759.9,689.8 L761.1,693.2 L762.3,695.8 L763.3,692.0 L764.4,689.8 L765.5,686.8 L766.5,680.9 L767.6,680.5 L768.7,676.6 L769.9,682.3 L771.1,684.9 L772.3,687.4 L773.4,689.4 L774.2,692.1 L775.0,697.0 L775.8,699.4 L776.6,702.2 L777.3,698.7 L778.0,697.5 L778.7,690.5 L779.4,690.7 L780.1,683.9 L780.7,683.5 L781.4,679.8 L784.6,678.1 L787.8,676.6 L788.5,678.5 L789.2,684.0 L789.9,686.2 L790.6,690.0 L791.2,694.7 L791.9,694.6 L792.6,699.0 L793.5,693.4 L794.4,691.6 L795.3,690.3 L796.3,684.7 L797.2,681.4 L798.1,681.9 L799.0,676.6 L801.4,680.6 L803.8,683.0 L804.5,685.9 L805.2,691.4 L805.8,691.7 L806.5,696.6 L807.2,697.5 L807.9,701.8 L808.6,705.4 L809.4,703.7 L810.2,701.1 L811.0,697.7 L811.8,692.0 L812.6,689.8 L813.4,685.3 L814.2,681.2 L815.0,679.8 L815.9,682.7 L816.9,687.3 L817.8,690.2 L818.8,692.4 L819.8,694.2 L821.4,699.6 L822.9,699.5 L824.5,702.1 L826.1,706.7 L827.7,710.2 L829.0,706.2 L830.3,703.0 L831.6,701.1 L832.8,699.3 L834.1,695.8 L835.7,699.0 L837.3,701.3 L838.9,707.1 L840.5,708.6 L841.6,708.1 L842.6,702.5 L843.7,697.7 L844.8,694.5 L845.8,695.8 L846.9,691.0 L849.3,691.1 L851.7,695.8 L852.4,699.9 L853.1,702.2 L853.8,703.9 L854.5,709.3 L855.2,708.5 L855.9,712.1 L856.7,716.7 L857.4,717.6 L858.1,722.9 L859.0,721.6 L859.9,715.7 L860.8,712.3 L861.7,708.8 L862.6,708.8 L863.5,704.9 L864.5,702.2 L866.9,699.6 L869.3,695.8 L870.8,699.2 L872.4,702.7 L874.0,703.8 L874.8,709.3 L875.6,711.1 L876.4,711.9 L877.2,716.4 L878.0,718.1 L878.8,720.5 L879.6,726.0 L880.4,729.3 L881.3,727.4 L882.3,721.8 L883.2,719.3 L884.1,716.7 L885.0,715.5 L885.9,711.6 L886.8,708.6 L891.6,705.4 L892.5,709.1 L893.4,713.1 L894.3,714.4 L895.3,719.6 L896.2,723.4 L897.1,722.5 L898.0,727.7 L899.4,733.1 L900.8,735.2 L902.2,735.5 L903.6,740.5 L904.2,737.3 L904.7,735.2 L905.3,733.7 L905.9,728.0 L906.4,726.0 L907.0,724.6 L907.6,719.8 L910.2,718.6 L912.9,716.7 L915.6,711.8 L917.2,708.4 L918.8,706.1 L920.3,700.7 L921.9,699.0 L922.9,703.3 L923.9,707.0 L924.8,709.3 L925.8,712.9 L926.7,715.0 L927.6,710.3 L928.6,710.6 L929.5,707.8 L930.4,704.6 L931.3,699.2 L932.2,697.3 L933.1,692.6 L936.3,693.3 L939.5,695.8 L941.1,701.0 L942.7,704.0 L944.3,705.4 L944.8,707.8 L945.2,709.7 L945.7,714.7 L946.1,718.4 L946.6,722.7 L947.0,724.5 L947.5,727.7 L949.9,722.2 L952.3,721.4 L953.6,726.1 L954.8,725.6 L956.1,732.4 L957.4,732.5 L958.7,737.3 L959.9,733.3 L961.1,732.4 L962.3,725.9 L963.5,724.5 L967.4,722.8 L971.4,724.5 L975.4,723.0 L979.4,721.4 L983.4,720.9 L987.4,718.2 L990.1,722.0 L992.7,723.4 L995.4,724.5 L999.4,727.6 L1003.4,726.1 L1005.5,723.4 L1007.6,723.1 L1009.8,718.2 L1013.0,717.7 L1016.1,721.4 L1018.3,723.2 L1020.4,727.9 L1022.5,730.9 L1023.6,726.7 L1024.7,725.7 L1025.7,722.0 L1026.8,718.3 L1027.9,716.7 L1028.9,711.8 L1031.1,708.9 L1033.2,704.4 L1035.3,702.2 L1037.7,704.0 L1040.0,707.0 L1043.2,710.3 L1046.4,712.2 L1049.6,711.8 L1050.8,707.5 L1052.0,707.9 L1053.2,705.7 L1054.4,700.6 L1057.6,701.2 L1060.8,702.0 L1064.0,702.2 L1067.9,699.9 L1071.9,700.6 L1074.1,703.4 L1076.2,705.9 L1078.3,708.6 L1078.8,712.3 L1079.3,712.6 L1079.8,720.5 L1080.2,721.4 L1080.7,724.5 L1080.1,727.2 L1079.5,732.4 L1078.9,734.4 L1078.3,737.3 L1081.5,737.3 L1084.7,738.3 L1087.9,737.3 L1091.1,735.1 L1094.3,737.5 L1097.5,737.3 L1100.7,736.9 L1103.9,739.6 L1107.1,737.3 L1107.7,736.2 L1108.3,729.8 L1109.0,727.6 L1109.6,722.7 L1110.3,721.4 L1113.4,721.8 L1116.6,722.9 L1118.8,721.9 L1120.9,719.6 L1123.0,715.0 L1126.2,713.2 L1129.4,711.8 L1129.7,714.0 L1130.1,716.6 L1130.4,721.9 L1130.7,726.7 L1131.0,727.7 L1131.5,729.6 L1132.1,736.6 L1132.6,738.9 L1135.8,738.1 L1139.0,740.6 L1142.2,743.7 L1146.2,743.9 L1150.2,746.9 L1154.2,746.2 L1158.2,743.7 L1161.4,744.9 L1164.5,747.2 L1167.7,750.1 L1170.9,750.2 L1174.1,747.1 L1177.3,748.5 L1180.0,747.0 L1182.6,741.3 L1185.3,740.5 L1185.8,743.8 L1186.4,745.7 L1186.9,748.6 L1187.4,753.4 L1188.0,756.2 L1188.5,759.1 L1189.0,762.4 L1189.6,766.2 L1190.1,769.3 L1191.7,764.4 L1193.3,761.4 L1194.9,759.7 L1196.2,757.1 L1197.4,754.0 L1198.7,750.2 L1200.0,748.7 L1201.3,743.7 L1203.9,742.7 L1206.6,742.3 L1209.3,738.9 L1210.8,734.8 L1212.4,734.5 L1214.0,732.1 L1215.6,727.7 L1218.8,728.7 L1222.0,724.7 L1225.2,724.5 L1228.4,723.1 L1231.6,725.6 L1234.8,722.9 L1236.9,719.4 L1239.1,721.2 L1241.2,716.6 L1244.4,717.7 L1247.6,715.0 L1248.8,716.3 L1250.0,720.0 L1251.2,725.7 L1252.4,727.7 L1254.0,729.1 L1255.6,730.8 L1257.2,737.1 L1258.8,737.6 L1260.3,740.5 L1263.5,742.0 L1266.7,740.5 L1267.7,735.4 L1268.6,733.6 L1269.6,731.9 L1270.6,725.3 L1271.5,724.5 L1273.1,719.9 L1274.7,719.1 L1276.3,717.0 L1277.9,711.8 L1279.5,710.9 L1281.1,703.5 L1282.7,702.2 L1284.3,699.0 L1288.3,698.7 L1292.3,695.8 L1294.4,699.0 L1296.5,703.1 L1298.7,705.4 L1301.9,706.2 L1305.1,710.2 L1306.3,705.2 L1307.6,702.5 L1308.9,699.2 L1310.2,698.9 L1311.4,695.8 L1314.6,696.9 L1317.8,698.3 L1321.0,699.0 L1323.2,695.1 L1325.3,693.2 L1327.4,692.6 L1330.6,690.6 L1333.8,693.2 L1337.0,691.0 L1338.6,690.7 L1340.2,687.6 L1341.8,680.6 L1343.4,679.8 L1347.4,679.2 L1351.4,683.0 L1352.3,688.5 L1353.3,689.2 L1354.2,693.9 L1355.2,694.9 L1356.1,699.0 L1358.1,696.3 L1360.0,694.0 L1361.9,691.0 L1363.8,689.3 L1365.7,686.2 L1368.4,681.7 L1371.1,683.0 L1373.7,679.8 L1375.7,684.0 L1377.7,683.0 L1379.7,686.8 L1381.7,689.4 L1382.6,693.5 L1383.6,694.7 L1384.5,696.5 L1385.4,699.2 L1386.4,703.8 L1388.8,705.8 L1391.2,705.4 L1393.6,711.7 L1396.0,711.8 L1397.9,715.8 L1399.8,717.9 L1401.7,721.2 L1403.6,722.6 L1405.5,724.5 L1407.5,726.5 L1409.5,729.8 L1411.5,731.8 L1413.5,734.1 L1414.9,733.3 L1416.2,729.3 L1417.5,723.3 L1418.9,723.4 L1420.2,719.4 L1421.5,715.0 L1424.7,716.4 L1427.9,715.0 L1429.1,719.7 L1430.3,720.9 L1431.5,726.5 L1432.7,727.7 L1436.4,730.2 L1440.1,729.8 L1443.9,729.3 L1447.1,730.7 L1450.3,730.7 L1453.4,728.9 L1456.6,729.3 L1459.8,730.0 L1463.0,726.4 L1466.2,727.3 L1469.4,727.7 L1472.6,727.2 L1475.8,724.5 L1479.0,725.8 L1482.2,726.1 L1483.5,724.0 L1484.7,721.0 L1486.0,716.2 L1487.3,716.9 L1488.6,711.8 L1490.7,709.4 L1492.8,704.6 L1495.0,702.2 L1497.4,706.2 L1499.8,708.6 L1500.3,711.9 L1500.8,714.8 L1501.4,717.1 L1501.9,723.1 L1502.4,724.4 L1502.9,727.7 L1503.5,731.0 L1504.0,735.1 L1504.5,735.7 L1507.7,734.9 L1510.9,739.5 L1514.1,740.5 L1517.3,740.1 L1520.5,737.3 L1522.6,732.9 L1524.8,730.4 L1526.9,727.7 L1529.0,723.4 L1531.2,722.0 L1533.3,721.4 L1534.1,717.5 L1534.9,713.0 L1535.7,710.5 L1536.5,710.6 L1537.3,705.6 L1538.1,702.2 L1538.9,701.3 L1539.7,695.8 L1541.3,693.5 L1542.9,693.0 L1544.5,688.5 L1546.1,686.7 L1547.7,680.4 L1549.3,679.8 L1552.4,678.7 L1555.6,676.6 L1558.8,679.0 L1562.0,676.5 L1565.2,679.8 L1568.9,680.9 L1572.7,676.0 L1576.4,676.6 L1579.1,678.1 L1581.7,678.2 L1584.4,681.4 L1587.6,683.0 L1590.8,685.2 L1594.0,686.2 L1596.1,686.7 L1598.2,693.8 L1600.3,694.2 L1601.4,696.7 L1602.5,700.2 L1603.5,703.5 L1604.6,705.2 L1605.7,707.8 L1606.7,711.8 L1610.7,714.1 L1614.7,715.0 L1615.4,718.5 L1616.1,720.3 L1616.8,725.6 L1617.5,726.7 L1618.1,728.5 L1618.8,732.8 L1619.5,737.3 L1622.7,733.4 L1625.9,734.1 L1628.0,730.3 L1630.2,731.1 L1632.3,727.7 L1635.5,727.2 L1638.7,729.7 L1641.9,727.7 L1644.3,726.6 L1646.7,720.7 L1649.0,723.0 L1651.4,718.2 L1654.6,721.4 L1657.8,718.2 L1661.0,721.4 L1664.2,725.0 L1667.4,724.5 L1669.0,727.4 L1670.6,730.8 L1672.2,736.5 L1673.8,737.3 L1677.0,737.6 L1680.2,740.5 L1682.3,737.4 L1684.4,736.3 L1686.6,730.9 L1688.7,729.9 L1690.8,726.5 L1693.0,724.5 L1694.6,730.1 L1696.1,732.5 L1697.7,734.6 L1699.3,737.3 L1703.3,734.6 L1707.3,735.7 L1710.0,738.5 L1712.6,739.8 L1715.3,742.1 L1717.4,738.0 L1719.6,734.5 L1721.7,734.1 L1724.8,731.1 L1728.0,727.7 L1732.0,725.9 L1736.0,727.7 L1738.6,729.6 L1741.3,732.8 L1744.0,734.1 L1746.6,735.5 L1749.3,736.1 L1751.9,738.9 L1755.1,738.8 L1758.3,737.4 L1761.5,737.3 L1764.7,739.8 L1767.9,739.6 L1771.1,740.5 L1773.2,745.1 L1775.4,747.0 L1777.5,746.9 L1779.6,745.9 L1781.7,741.3 L1783.9,740.5 L1784.7,735.7 L1785.5,736.6 L1786.3,733.2 L1787.1,729.4 L1787.9,725.2 L1788.7,722.9 L1791.9,722.6 L1795.0,724.5 L1797.2,728.1 L1799.3,730.2 L1801.4,732.5 L1803.6,735.6 L1805.7,738.5 L1807.8,740.5 L1808.5,738.6 L1809.1,732.6 L1809.7,729.7 L1810.4,730.1 L1811.0,724.5 L1814.2,725.0 L1817.4,721.4 L1818.5,726.4 L1819.5,725.4 L1820.6,728.7 L1821.7,733.0 L1822.7,736.9 L1823.8,740.5 L1825.4,744.3 L1827.0,744.9 L1828.6,750.1 L1830.2,747.1 L1831.8,741.6 L1833.4,738.4 L1835.0,737.3 L1838.2,739.0 L1841.4,738.9 L1844.5,740.8 L1847.7,742.8 L1850.9,743.7 L1854.1,743.6 L1857.3,744.7 L1860.5,745.3 L1863.7,741.7 L1866.9,740.3 L1870.1,738.9 L1872.2,737.5 L1874.3,735.3 L1876.5,730.9 L1877.3,725.6 L1878.1,722.6 L1878.9,722.9 L1879.7,718.8 L1880.5,716.3 L1881.3,711.8 L1882.3,707.1 L1883.4,705.0 L1884.5,701.0 L1885.5,700.5 L1886.6,695.1 L1887.7,692.6 L1890.3,691.2 L1893.0,690.8 L1895.6,686.2 L1898.8,684.8 L1902.0,685.4 L1905.2,684.6 L1908.4,688.3 L1911.6,689.4 L1912.1,694.7 L1912.5,695.4 L1913.0,698.3 L1913.4,700.2 L1913.9,707.3 L1914.3,706.5 L1914.8,711.8 L1915.6,713.3 L1916.4,719.3 L1917.2,722.5 L1918.0,726.1 L1921.2,729.5 L1924.4,730.9 L1925.4,726.7 L1926.5,725.9 L1927.6,719.2 L1928.6,716.7 L1929.7,715.8 L1930.8,711.8 L1934.0,708.6 L1935.6,709.7 L1937.2,715.0 L1938.8,716.8 L1940.3,721.7 L1941.9,724.3 L1943.5,726.1 L1946.7,726.7 L1949.9,727.5 L1953.1,730.9 L1956.3,730.2 L1959.5,730.9 L1962.7,732.9 L1965.9,732.5 L1968.0,729.2 L1970.2,725.3 L1972.3,724.5 L1974.4,723.5 L1976.5,720.6 L1978.7,718.2 L1981.9,719.7 L1985.1,719.3 L1988.2,716.6 L1991.4,721.0 L1994.6,721.4 L1996.8,723.2 L1998.9,727.1 L2001.0,727.7 L2004.2,728.4 L2007.4,730.9 L2011.4,730.0 L2015.4,730.9 L2019.4,730.4 L2023.4,730.9 L2027.4,733.9 L2031.4,732.5 L2034.6,735.3 L2037.7,734.1 L2041.7,731.3 L2045.7,730.9 L2046.8,727.0 L2047.9,723.9 L2048.9,720.7 L2050.0,717.6 L2051.1,714.4 L2052.1,711.8 L2052.8,707.1 L2053.5,705.7 L2054.2,703.7 L2054.9,699.2 L2055.5,697.5 L2056.2,692.9 L2056.9,689.4 L2057.8,684.6 L2058.6,684.3 L2059.5,681.7 L2060.4,675.5 L2061.2,671.1 L2062.1,670.3 L2063.0,667.1 L2067.0,667.3 L2071.0,667.1 L2072.6,664.7 L2074.2,664.1 L2075.8,659.1 L2076.8,656.6 L2077.9,654.2 L2079.0,647.3 L2080.0,646.5 L2081.1,644.6 L2082.1,639.9 L2085.3,637.8 L2088.5,639.9 L2089.5,640.7 L2090.4,646.9 L2091.4,650.5 L2092.4,649.3 L2093.3,654.3 L2096.0,657.1 L2098.6,656.8 L2101.3,660.7 L2105.3,662.7 L2109.3,662.3 L2111.7,665.4 L2114.1,667.1 L2116.5,669.0 L2118.9,673.4 L2121.0,675.2 L2123.1,681.2 L2125.3,683.0 L2127.4,686.3 L2129.5,690.7 L2131.6,692.6 L2134.8,690.5 L2138.0,689.4 L2139.6,685.8 L2141.2,686.2 L2142.8,681.9 L2144.4,678.2 L2147.6,678.2 L2150.8,678.2 L2152.4,681.1 L2154.0,684.7 L2155.6,686.2 L2156.4,690.5 L2157.2,694.7 L2158.0,695.4 L2158.8,699.0 L2159.6,703.8 L2160.4,706.2 L2161.2,708.6" fill="none" stroke="#ff00ff" stroke-width="18" stroke-linejoin="round" stroke-linecap="round"/></g>
<g shape-rendering="crispEdges"><path d="M377.0,1581.2 L397.5,1579.0 L413.7,1576.8 L441.1,1572.5 L468.5,1567.1 L490.4,1557.5 L509.6,1545.2 L528.7,1530.1 L545.7,1514.0 L561.0,1493.3 L572.4,1470.5 L581.9,1447.6 L591.4,1424.8 L601.0,1398.1 L610.5,1371.4 L620.0,1344.8 L629.5,1318.1 L637.1,1291.4 L642.9,1264.8 L648.6,1238.1 L655.2,1220.0 L660.5,1204.0 L666.7,1185.7 L675.2,1147.6 L685.7,1109.5 L695.2,1071.4 L704.8,1033.3 L715.2,995.2 L726.7,957.1 L733.0,937.0 L739.0,917.1 L745.7,898.1 L757.1,883.8 L762.9,869.5" fill="none" stroke="#0000ff" stroke-width="13.5" stroke-linejoin="round" stroke-linecap="round"/><path d="M762.9,869.5 L764.2,868.9 L765.5,862.0 L766.9,858.5 L768.2,860.6 L769.5,855.2 L771.4,850.8 L773.3,847.6 L775.2,847.4 L777.1,843.8 L778.5,840.2 L780.0,840.0 L781.5,833.9 L782.9,832.4 L784.5,832.1 L786.2,826.2 L787.9,825.0 L789.5,821.9 L791.2,821.0 L792.9,816.6 L794.5,814.7 L796.2,809.5 L798.7,807.7 L801.3,801.6 L803.8,801.0 L805.4,799.7 L807.0,795.0 L808.6,791.4 L811.9,790.5 L815.2,791.4 L817.8,787.3 L820.3,788.1 L822.9,783.8 L827.6,781.9 L828.6,785.2 L829.5,789.8 L830.5,791.8 L831.4,795.6 L832.4,796.2 L837.1,798.1 L838.8,795.6 L840.5,793.4 L842.1,790.1 L843.8,786.7 L845.5,782.4 L847.1,782.8 L848.8,776.5 L850.5,774.3 L855.2,774.3 L856.2,778.6 L857.1,782.3 L858.1,783.6 L859.0,784.0 L860.0,788.6 L862.9,791.5 L865.7,792.0 L868.6,792.4 L869.5,793.7 L870.5,795.8 L871.5,801.1 L872.4,803.8 L873.3,798.4 L874.3,799.8 L875.2,794.7 L876.2,791.7 L877.1,788.6 L877.7,784.9 L878.2,783.0 L878.8,781.0 L879.3,774.7 L879.9,771.8 L880.4,769.3 L884.4,768.1 L888.4,766.1 L889.2,768.0 L890.0,772.4 L890.8,775.1 L891.6,777.4 L892.4,781.6 L893.2,783.6 L894.2,780.9 L895.1,775.8 L896.1,777.5 L897.0,771.4 L898.0,769.3 L899.1,772.1 L900.1,775.2 L901.2,781.0 L902.3,784.3 L903.3,785.3 L904.4,788.4 L905.3,784.7 L906.3,780.0 L907.3,780.8 L908.2,774.0 L909.2,772.4 L910.4,769.5 L911.6,765.3 L912.8,762.0 L914.0,759.7 L917.2,756.6 L920.3,754.9 L921.9,756.1 L923.5,758.2 L925.1,763.4 L926.7,766.1 L928.0,764.3 L929.3,760.4 L930.6,755.0 L931.8,754.3 L933.1,750.1 L935.2,745.7 L937.4,745.4 L939.5,743.7 L941.1,748.5 L942.7,752.2 L944.3,753.1 L945.9,756.5 L947.5,755.0 L949.1,750.1 L950.7,747.0 L952.3,743.7 L953.3,741.2 L954.4,740.3 L955.5,736.1 L956.5,731.9 L957.6,730.2 L958.7,726.1 L959.5,723.3 L960.3,718.2 L961.1,716.8 L961.9,711.8 L964.3,711.4 L966.7,708.3 L969.0,708.0 L971.4,703.8 L974.6,699.8 L977.8,700.6 L981.0,699.0 L983.2,697.5 L985.3,693.9 L987.4,692.6 L990.6,689.4 L993.8,689.4 L995.9,693.6 L998.1,695.5 L1000.2,699.0 L1001.8,694.6 L1003.4,690.3 L1005.0,691.8 L1006.6,686.2 L1009.8,687.1 L1013.0,689.4 L1014.2,690.7 L1015.5,694.4 L1016.8,697.8 L1018.1,704.0 L1019.3,705.4 L1022.5,702.2 L1025.7,702.2 L1027.0,704.3 L1028.3,706.6 L1029.6,711.6 L1030.8,713.5 L1032.1,718.2 L1034.2,720.0 L1036.4,724.7 L1038.5,726.1 L1042.4,727.5 L1046.4,724.5 L1046.9,729.4 L1047.5,728.6 L1048.0,733.5 L1048.5,739.1 L1049.0,738.2 L1049.6,743.7 L1051.7,744.9 L1053.8,749.0 L1056.0,751.7 L1058.6,753.8 L1061.3,758.3 L1064.0,759.7 L1066.6,763.4 L1069.3,764.8 L1071.9,767.7 L1074.1,763.7 L1076.2,761.0 L1078.3,759.7 L1081.0,755.8 L1083.6,752.2 L1086.3,751.7 L1089.5,752.5 L1092.7,751.7 L1094.3,752.6 L1095.9,759.0 L1097.5,759.7 L1099.6,763.1 L1101.7,762.8 L1103.9,767.7 L1105.1,770.8 L1106.3,774.6 L1107.5,774.9 L1108.7,780.4 L1110.3,777.2 L1111.9,771.7 L1113.4,772.2 L1115.0,767.7 L1116.0,762.3 L1117.0,762.6 L1117.9,761.5 L1118.9,757.9 L1119.8,753.3 L1122.0,754.1 L1124.1,757.7 L1126.2,759.7 L1129.4,758.7 L1132.6,761.3 L1133.2,757.3 L1133.8,756.7 L1134.4,753.3 L1135.0,746.0 L1135.6,744.7 L1136.2,742.8 L1136.8,737.3 L1137.4,735.7 L1137.6,734.2 L1137.8,731.7 L1138.0,727.0 L1138.2,723.1 L1138.4,722.5 L1138.6,717.8 L1138.8,713.2 L1139.0,711.8 L1140.6,708.0 L1142.2,704.7 L1143.8,703.8 L1146.4,707.1 L1149.1,707.0 L1151.8,708.6 L1155.0,709.0 L1158.2,709.1 L1161.4,707.0 L1164.5,708.3 L1167.7,703.3 L1170.9,703.8 L1174.1,705.4 L1177.3,709.9 L1180.5,710.2 L1182.1,714.3 L1183.7,715.2 L1185.3,719.3 L1186.9,721.4 L1189.6,717.7 L1192.2,715.4 L1194.9,715.0 L1198.1,711.1 L1201.3,711.8 L1203.4,714.4 L1205.5,716.8 L1207.7,721.4 L1208.1,724.6 L1208.6,730.1 L1209.0,729.2 L1209.5,734.4 L1209.9,739.1 L1210.4,741.0 L1210.8,743.7 L1213.2,747.0 L1215.6,750.1 L1218.0,754.6 L1220.4,756.5 L1222.4,751.7 L1224.4,753.9 L1226.4,750.2 L1228.4,746.9 L1231.6,749.2 L1234.8,748.5 L1238.0,753.3 L1240.1,751.7 L1242.3,744.9 L1244.4,743.7 L1246.5,739.4 L1248.6,737.8 L1250.8,737.3 L1252.0,734.5 L1253.2,733.9 L1254.4,731.0 L1255.6,726.1 L1257.2,722.5 L1258.8,720.4 L1260.3,716.6 L1263.5,717.0 L1266.7,715.0 L1268.9,717.3 L1271.0,723.7 L1273.1,724.5 L1275.2,723.6 L1277.4,719.3 L1279.5,715.0 L1281.9,720.2 L1284.3,721.4 L1284.8,726.0 L1285.4,728.5 L1285.9,730.0 L1286.4,733.0 L1287.0,736.0 L1287.5,740.5 L1290.2,736.2 L1292.8,738.4 L1295.5,734.1 L1298.7,731.5 L1301.9,730.9 L1302.9,731.7 L1304.0,736.4 L1305.1,740.5 L1305.9,735.3 L1306.7,733.8 L1307.4,730.1 L1308.2,726.1 L1309.0,724.4 L1309.8,720.9 L1310.6,717.4 L1311.4,715.0 L1314.6,714.9 L1317.8,711.8 L1320.0,714.0 L1322.1,718.4 L1324.2,721.4 L1325.5,726.4 L1326.8,730.0 L1328.0,730.3 L1329.3,731.8 L1330.6,737.3 L1331.9,736.4 L1333.2,731.0 L1334.4,726.3 L1335.7,722.7 L1337.0,721.4 L1339.1,717.9 L1341.2,716.1 L1343.4,715.0 L1344.7,710.0 L1345.9,706.3 L1347.2,707.9 L1348.5,703.8 L1349.8,699.0 L1353.0,694.9 L1356.1,694.6 L1359.3,692.6 L1362.5,695.7 L1365.7,695.8 L1366.9,699.0 L1368.1,700.0 L1369.3,704.6 L1370.5,708.6 L1372.1,711.2 L1373.7,717.0 L1375.3,718.6 L1376.9,721.4 L1379.0,723.3 L1381.2,726.3 L1383.3,727.7 L1386.4,730.9 L1388.8,725.5 L1391.2,724.5 L1392.1,722.3 L1393.1,719.7 L1394.1,715.8 L1395.0,711.1 L1396.0,708.6 L1397.6,704.3 L1399.2,699.7 L1400.8,696.9 L1402.4,695.8 L1405.5,693.3 L1408.7,694.2 L1410.3,696.6 L1411.9,700.9 L1413.5,702.2 L1415.1,704.0 L1416.7,708.4 L1418.3,711.8 L1420.5,715.6 L1422.6,718.8 L1424.7,721.4 L1425.5,722.5 L1426.3,730.6 L1427.1,732.6 L1427.9,735.7 L1429.1,737.5 L1430.3,740.0 L1431.5,745.0 L1432.7,746.9 L1433.8,752.3 L1434.8,752.5 L1435.9,756.5 L1437.9,753.6 L1439.9,752.0 L1441.9,747.7 L1443.9,746.9 L1447.9,746.4 L1451.9,746.9 L1453.4,745.8 L1455.0,740.8 L1456.6,737.3 L1458.8,741.1 L1460.9,740.4 L1463.0,743.7 L1464.6,748.7 L1466.2,751.5 L1467.8,753.3 L1469.9,748.7 L1472.1,747.0 L1474.2,743.7 L1476.3,742.5 L1478.5,739.8 L1480.6,737.3 L1482.7,741.0 L1484.9,742.4 L1487.0,746.9 L1491.8,743.7 L1492.3,740.8 L1492.8,736.6 L1493.4,735.6 L1493.9,730.3 L1494.4,730.1 L1495.0,724.5 L1496.6,721.8 L1498.2,716.8 L1499.8,714.5 L1501.4,711.8 L1503.5,706.7 L1505.6,706.6 L1507.7,702.2 L1509.9,696.7 L1512.0,696.3 L1514.1,692.6 L1517.3,690.1 L1520.5,689.4 L1523.7,690.8 L1526.9,689.4 L1531.7,686.2 L1533.8,687.6 L1535.9,693.5 L1538.1,695.8 L1541.3,695.3 L1544.5,692.6 L1546.1,694.5 L1547.7,697.1 L1549.3,702.2 L1549.8,704.7 L1550.3,709.3 L1550.8,710.6 L1551.4,712.5 L1551.9,717.9 L1552.4,721.4 L1553.1,726.1 L1553.7,726.0 L1554.4,733.1 L1555.0,734.2 L1555.6,737.3 L1560.4,740.5 L1561.6,735.6 L1562.8,732.1 L1564.0,730.3 L1565.2,727.7 L1566.2,724.4 L1567.1,719.7 L1568.1,716.1 L1569.1,715.0 L1570.0,711.8 L1572.0,708.1 L1574.0,706.7 L1576.0,704.3 L1578.0,702.2 L1582.0,703.2 L1586.0,702.2 L1587.2,705.8 L1588.4,707.2 L1589.6,710.2 L1590.8,715.0 L1592.4,720.0 L1594.0,719.1 L1595.6,724.5 L1596.2,719.5 L1596.8,716.0 L1597.4,716.6 L1598.0,712.0 L1598.6,710.7 L1599.1,706.0 L1599.7,701.4 L1600.3,699.0 L1602.5,695.5 L1604.6,693.8 L1606.7,689.4 L1609.1,686.1 L1611.5,686.9 L1613.9,683.0 L1616.3,681.4 L1618.7,681.1 L1621.1,684.6 L1623.5,687.7 L1625.9,689.4 L1628.0,689.8 L1630.2,695.7 L1632.3,695.8 L1635.5,699.5 L1638.7,699.0 L1640.8,695.9 L1642.9,694.6 L1645.1,689.4 L1648.2,690.4 L1651.4,689.6 L1654.6,689.4 L1656.2,690.9 L1657.8,698.1 L1659.4,701.1 L1661.0,702.2 L1663.2,699.8 L1665.3,697.4 L1667.4,695.8 L1670.6,693.7 L1673.8,695.8 L1677.0,698.0 L1680.2,699.0 L1682.3,697.6 L1684.4,692.1 L1686.6,689.4 L1688.7,690.5 L1690.8,694.2 L1693.0,695.8 L1694.0,700.5 L1695.1,700.5 L1696.1,704.3 L1697.2,709.3 L1698.3,709.5 L1699.3,715.0 L1700.6,713.4 L1701.9,707.7 L1703.2,707.0 L1704.5,702.0 L1705.7,699.0 L1708.9,698.9 L1712.1,702.2 L1715.3,698.2 L1718.5,699.0 L1719.6,693.9 L1720.6,691.4 L1721.7,690.7 L1722.8,687.7 L1723.8,683.7 L1724.9,679.8 L1725.6,675.7 L1726.4,673.4 L1729.6,675.1 L1732.8,675.0 L1733.6,679.8 L1734.4,681.6 L1735.2,683.7 L1736.0,689.4 L1739.2,689.3 L1742.4,689.4 L1744.5,684.8 L1746.6,681.5 L1748.7,679.8 L1751.9,677.7 L1755.1,676.6 L1757.3,677.7 L1759.4,685.0 L1761.5,686.2 L1762.7,688.3 L1763.9,694.6 L1765.1,697.0 L1766.3,699.0 L1768.4,693.4 L1770.6,694.6 L1772.7,689.4 L1773.6,687.8 L1774.6,683.2 L1775.6,681.8 L1776.5,676.5 L1777.5,673.4 L1780.7,669.5 L1783.9,670.3 L1786.5,666.4 L1789.2,665.1 L1791.9,663.9 L1795.8,664.1 L1799.8,660.7 L1802.5,664.5 L1805.2,663.0 L1807.8,667.1 L1809.9,668.4 L1812.1,669.4 L1814.2,673.4 L1814.8,675.3 L1815.5,679.1 L1816.1,682.6 L1816.8,684.5 L1817.4,689.4 L1817.8,693.4 L1818.2,694.5 L1818.6,700.9 L1819.0,702.2 L1822.2,700.5 L1825.4,699.0 L1827.5,695.5 L1829.6,693.9 L1831.8,689.4 L1835.0,687.0 L1838.2,686.2 L1840.3,687.1 L1842.4,688.6 L1844.5,692.6 L1845.0,694.8 L1845.5,697.7 L1845.9,703.4 L1846.4,704.7 L1846.8,709.6 L1847.3,710.6 L1847.7,715.0 L1848.2,716.0 L1848.6,720.4 L1849.1,724.0 L1849.6,729.8 L1850.0,729.4 L1850.5,732.7 L1850.9,737.3 L1854.9,734.8 L1858.9,735.7 L1861.6,732.9 L1864.2,734.8 L1866.9,730.9 L1868.2,729.9 L1869.5,723.2 L1870.7,719.1 L1872.0,718.1 L1873.3,715.0 L1875.7,718.6 L1878.1,721.4 L1880.2,722.6 L1882.3,727.3 L1884.5,730.9 L1886.6,735.5 L1888.7,734.8 L1890.8,740.5 L1892.4,738.4 L1894.0,735.0 L1895.6,732.4 L1897.2,727.7 L1898.4,724.9 L1899.6,722.0 L1900.8,719.4 L1902.0,716.6 L1904.2,712.1 L1906.3,711.3 L1908.4,708.6 L1911.1,705.1 L1913.7,703.4 L1916.4,702.2 L1918.5,702.0 L1920.7,704.7 L1922.8,708.6 L1923.7,709.5 L1924.7,715.2 L1925.7,716.8 L1926.6,721.6 L1927.6,724.5 L1928.1,727.8 L1928.6,729.6 L1929.2,732.3 L1929.7,737.8 L1930.2,741.4 L1930.8,743.7 L1934.0,746.3 L1937.2,746.9 L1939.5,749.3 L1941.9,752.1 L1944.3,751.7 L1946.7,756.5 L1950.7,753.9 L1954.7,753.3 L1957.9,756.4 L1961.1,755.9 L1964.3,758.1 L1967.0,753.4 L1969.6,752.4 L1972.3,750.1 L1974.4,749.6 L1976.5,743.8 L1978.7,743.7 L1981.9,740.2 L1985.1,740.5 L1986.3,737.3 L1987.6,736.0 L1988.9,730.4 L1990.2,726.5 L1991.4,724.5 L1993.0,729.1 L1994.6,728.9 L1996.2,734.1 L1996.9,736.6 L1997.5,741.6 L1998.1,746.4 L1998.8,750.0 L1999.4,751.7 L2001.6,748.2 L2003.7,745.2 L2005.8,743.7 L2006.0,739.8 L2006.2,735.4 L2006.3,733.0 L2006.5,732.3 L2006.7,730.1 L2006.9,723.4 L2007.1,719.2 L2007.2,719.4 L2007.4,715.0 L2009.5,715.2 L2011.7,712.2 L2013.8,708.6 L2017.0,709.2 L2020.2,711.9 L2023.4,711.8 L2026.6,714.7 L2029.8,715.0 L2031.9,713.0 L2034.0,708.5 L2036.1,705.4 L2040.1,706.3 L2044.1,702.2 L2046.8,705.7 L2049.5,705.1 L2052.1,708.6 L2054.2,706.1 L2056.4,702.3 L2058.5,702.2 L2059.1,698.4 L2059.8,695.8 L2061.4,694.2 L2063.0,689.3 L2064.6,686.3 L2066.2,683.0 L2069.4,682.8 L2072.6,679.8 L2076.6,679.4 L2080.5,683.0 L2083.7,683.9 L2086.9,686.2 L2088.2,689.3 L2089.5,692.6 L2090.8,696.7 L2092.0,701.2 L2093.3,702.2 L2095.5,706.9 L2097.6,708.8 L2099.7,711.8 L2101.8,709.5 L2104.0,705.6 L2106.1,702.2 L2106.9,701.4 L2107.7,696.3 L2108.5,693.1 L2109.3,688.9 L2110.1,685.8 L2110.9,684.3 L2111.7,679.2 L2112.5,676.6 L2117.3,679.8 L2118.9,685.0 L2120.5,687.4 L2122.1,689.4 L2124.2,693.8 L2126.3,694.7 L2128.4,695.8 L2130.0,699.3 L2131.6,701.5 L2133.2,705.4 L2133.5,706.2 L2133.7,712.6 L2133.9,716.2 L2134.2,719.3 L2134.4,722.6 L2134.6,722.2 L2134.8,727.7 L2135.9,731.9 L2137.0,733.0 L2138.0,737.3 L2141.2,736.8 L2144.4,739.2 L2147.6,737.3 L2150.8,734.7 L2154.0,732.9 L2157.2,730.9 L2160.4,727.6 L2163.6,727.2 L2166.8,727.7 L2168.4,723.1 L2170.0,719.9 L2171.6,718.2 L2172.4,715.1 L2173.2,709.5 L2174.0,706.5 L2174.8,703.3 L2175.6,703.4 L2176.4,699.0 L2178.5,699.2 L2180.6,696.0 L2182.7,692.6 L2185.9,692.7 L2189.1,692.6 L2189.8,694.0 L2190.4,700.4 L2191.0,700.3 L2191.7,703.3 L2192.3,708.6 L2192.8,711.8 L2193.4,716.8 L2193.9,717.2 L2194.4,723.2 L2195.0,723.7 L2195.5,727.7 L2197.1,726.9 L2198.7,721.4 L2199.9,719.4 L2201.1,716.8 L2202.3,714.2 L2203.5,708.6 L2206.7,708.6 L2209.9,705.4 L2210.8,707.1 L2211.8,711.8 L2212.8,715.2 L2213.7,719.3 L2214.7,721.4 L2216.8,716.8 L2218.9,715.3 L2221.1,711.8 L2221.5,707.5 L2222.0,703.8 L2222.4,701.9 L2222.9,700.5 L2223.3,696.1 L2223.8,691.9 L2224.3,689.4 L2225.8,685.3 L2227.4,683.1 L2229.0,680.5 L2230.6,678.2 L2233.8,677.9 L2237.0,679.8 L2238.6,682.1 L2240.2,684.9 L2241.8,688.4 L2243.4,692.6 L2245.5,695.6 L2247.7,697.5 L2249.8,699.0 L2251.9,701.8 L2254.1,705.4 L2256.2,705.4 L2258.3,708.3 L2260.4,707.8 L2262.6,711.8 L2264.2,714.5 L2265.8,718.3 L2267.4,722.6 L2269.0,724.5 L2271.1,721.5 L2273.2,716.1 L2275.3,715.0 L2277.5,711.6 L2279.6,709.4 L2281.7,705.4 L2282.2,703.6 L2282.6,698.7 L2283.1,694.4 L2283.6,690.3 L2284.0,689.4 L2284.5,687.5 L2284.9,683.0 L2289.7,679.8 L2292.4,680.0 L2295.0,684.2 L2297.7,686.2 L2298.7,689.9 L2299.6,692.9 L2300.6,694.5 L2301.5,697.0 L2302.5,702.2 L2303.0,703.0 L2303.6,707.6 L2304.1,713.8 L2304.6,714.6 L2305.2,720.6 L2305.7,721.4" fill="none" stroke="#0000ff" stroke-width="18" stroke-linejoin="round" stroke-linecap="round"/></g>
<line x1="369" y1="725.9" x2="2357" y2="715.16" stroke="#0072bd" stroke-width="12.6" stroke-dasharray="50 47" shape-rendering="crispEdges"/>
<line x1="362" y1="1175.6" x2="2350" y2="1165.3" stroke="#0072bd" stroke-width="12.6" stroke-dasharray="50 47" shape-rendering="crispEdges"/>
<text x="377.00" y="1700.5" font-family="&apos;Liberation Serif&apos;, serif" font-size="93" fill="#262626" text-anchor="middle">0</text>
<text x="652.71" y="1700.5" font-family="&apos;Liberation Serif&apos;, serif" font-size="93" fill="#262626" text-anchor="middle">1</text>
<text x="928.43" y="1700.5" font-family="&apos;Liberation Serif&apos;, serif" font-size="93" fill="#262626" text-anchor="middle">2</text>
<text x="1204.14" y="1700.5" font-family="&apos;Liberation Serif&apos;, serif" font-size="93" fill="#262626" text-anchor="middle">3</text>
<text x="1479.86" y="1700.5" font-family="&apos;Liberation Serif&apos;, serif" font-size="93" fill="#262626" text-anchor="middle">4</text>
<text x="1755.57" y="1700.5" font-family="&apos;Liberation Serif&apos;, serif" font-size="93" fill="#262626" text-anchor="middle">5</text>
<text x="2031.29" y="1700.5" font-family="&apos;Liberation Serif&apos;, serif" font-size="93" fill="#262626" text-anchor="middle">6</text>
<text x="2307.00" y="1700.5" font-family="&apos;Liberation Serif&apos;, serif" font-size="93" fill="#262626" text-anchor="middle">7</text>
<text x="348.5" y="1620.30" font-family="&apos;Liberation Serif&apos;, serif" font-size="93.5" fill="#262626" text-anchor="end">0</text>
<text x="348.5" y="1403.44" font-family="&apos;Liberation Serif&apos;, serif" font-size="93.5" fill="#262626" text-anchor="end">500</text>
<text x="348.5" y="1186.59" font-family="&apos;Liberation Serif&apos;, serif" font-size="93.5" fill="#262626" text-anchor="end">1000</text>
<text x="348.5" y="969.73" font-family="&apos;Liberation Serif&apos;, serif" font-size="93.5" fill="#262626" text-anchor="end">1500</text>
<text x="348.5" y="752.87" font-family="&apos;Liberation Serif&apos;, serif" font-size="93.5" fill="#262626" text-anchor="end">2000</text>
<text x="348.5" y="536.01" font-family="&apos;Liberation Serif&apos;, serif" font-size="93.5" fill="#262626" text-anchor="end">2500</text>
<text x="348.5" y="319.16" font-family="&apos;Liberation Serif&apos;, serif" font-size="93.5" fill="#262626" text-anchor="end">3000</text>
<text x="348.5" y="102.30" font-family="&apos;Liberation Serif&apos;, serif" font-size="93.5" fill="#262626" text-anchor="end">3500</text>
<text x="875.5" y="1804.7" font-family="&apos;Liberation Serif&apos;, serif" font-size="100.65" fill="#262626">Dimensionless time <tspan font-style="italic">t</tspan></text>
<text transform="translate(109.5,1374.5) rotate(-90)" font-family="&apos;Liberation Serif&apos;, serif" font-size="100.67" fill="#262626">Number of moving particles</text>
<text x="2132.8" y="1816.3" font-family="&apos;Liberation Serif&apos;, serif" font-size="118.5" fill="#000">×</text>
<text x="2191.25" y="1802" font-family="&apos;Liberation Serif&apos;, serif" font-size="95" fill="#000">10</text>
<text x="2286.9" y="1765.1" font-family="&apos;Liberation Serif&apos;, serif" font-size="59" fill="#000">−</text>
<text x="2316" y="1759.5" font-family="&apos;Liberation Serif&apos;, serif" font-size="53" fill="#000">3</text>
<rect x="995" y="465" width="1070" height="177" fill="#fff" stroke="#000" stroke-width="4"/>
<text x="1025" y="570.6" font-family="&apos;Liberation Sans&apos;, Arial, sans-serif" font-size="86.2" fill="#000">(c<tspan font-size="69" dy="42">1</tspan><tspan dy="-42">+c</tspan><tspan font-size="69" dy="42">4</tspan><tspan dy="-42">)X=5, c</tspan><tspan font-size="69" dy="42">2</tspan><tspan dy="-42">+c</tspan><tspan font-size="69" dy="42">3</tspan><tspan dy="-42">=0.0025</tspan></text>
<rect x="995" y="942" width="1018" height="150" fill="#fff" stroke="#000" stroke-width="4"/>
<text x="1025" y="1050" font-family="&apos;Liberation Sans&apos;, Arial, sans-serif" font-size="86.2" fill="#000">(c<tspan font-size="69" dy="42">1</tspan><tspan dy="-42">+c</tspan><tspan font-size="69" dy="42">4</tspan><tspan dy="-42">)X=5, c</tspan><tspan font-size="69" dy="42">2</tspan><tspan dy="-42">+c</tspan><tspan font-size="69" dy="42">3</tspan><tspan dy="-42">=0.005</tspan></text></svg></body></html>
